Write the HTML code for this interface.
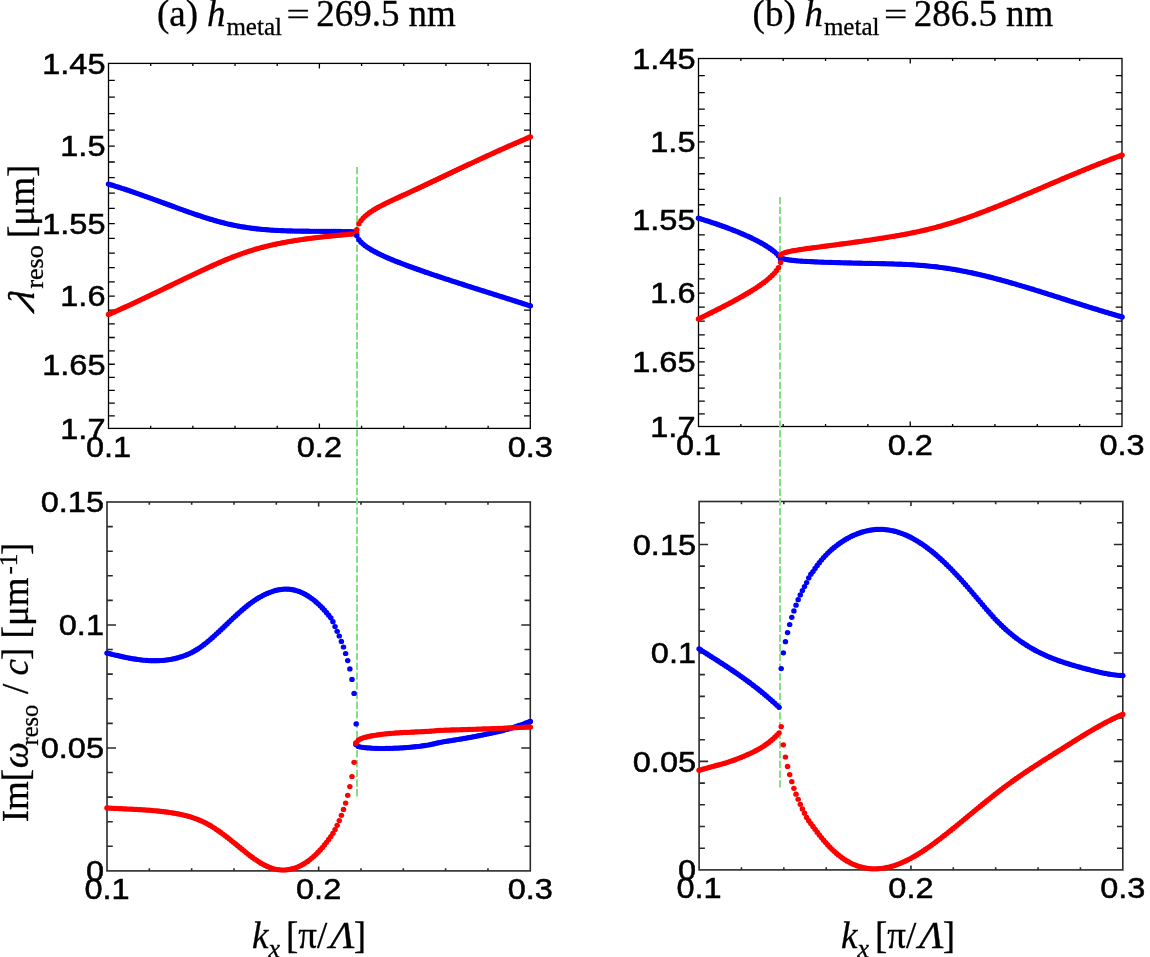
<!DOCTYPE html>
<html><head><meta charset="utf-8"><title>Figure</title>
<style>html,body{margin:0;padding:0;background:#fff;}svg{display:block;}</style>
</head><body>
<svg width="1150" height="957" viewBox="0 0 1150 957">
<rect width="1150" height="957" fill="#fff"/>
<g stroke="#000" stroke-width="1.30" fill="none">
<rect x="108.50" y="63.40" width="421.80" height="365.00"/>
<path d="M150.68 428.40v-2.60M150.68 63.40v2.60M192.86 428.40v-2.60M192.86 63.40v2.60M235.04 428.40v-2.60M235.04 63.40v2.60M277.22 428.40v-2.60M277.22 63.40v2.60M319.40 428.40v-5.00M319.40 63.40v5.00M361.58 428.40v-2.60M361.58 63.40v2.60M403.76 428.40v-2.60M403.76 63.40v2.60M445.94 428.40v-2.60M445.94 63.40v2.60M488.12 428.40v-2.60M488.12 63.40v2.60M108.50 80.40h6.30M530.30 80.40h-6.30M108.50 97.17h6.30M530.30 97.17h-6.30M108.50 113.71h6.30M530.30 113.71h-6.30M108.50 130.03h6.30M530.30 130.03h-6.30M108.50 146.13h6.30M530.30 146.13h-6.30M108.50 162.02h6.30M530.30 162.02h-6.30M108.50 177.70h6.30M530.30 177.70h-6.30M108.50 193.18h6.30M530.30 193.18h-6.30M108.50 208.45h6.30M530.30 208.45h-6.30M108.50 223.53h6.30M530.30 223.53h-6.30M108.50 238.41h6.30M530.30 238.41h-6.30M108.50 253.11h6.30M530.30 253.11h-6.30M108.50 267.62h6.30M530.30 267.62h-6.30M108.50 281.94h6.30M530.30 281.94h-6.30M108.50 296.09h6.30M530.30 296.09h-6.30M108.50 310.06h6.30M530.30 310.06h-6.30M108.50 323.86h6.30M530.30 323.86h-6.30M108.50 337.49h6.30M530.30 337.49h-6.30M108.50 350.95h6.30M530.30 350.95h-6.30M108.50 364.25h6.30M530.30 364.25h-6.30M108.50 377.39h6.30M530.30 377.39h-6.30M108.50 390.37h6.30M530.30 390.37h-6.30M108.50 403.20h6.30M530.30 403.20h-6.30M108.50 415.87h6.30M530.30 415.87h-6.30"/>
</g>
<g stroke="#000" stroke-width="1.30" fill="none">
<rect x="698.50" y="58.50" width="423.50" height="368.00"/>
<path d="M740.85 426.50v-2.60M740.85 58.50v2.60M783.20 426.50v-2.60M783.20 58.50v2.60M825.55 426.50v-2.60M825.55 58.50v2.60M867.90 426.50v-2.60M867.90 58.50v2.60M910.25 426.50v-5.00M910.25 58.50v5.00M952.60 426.50v-2.60M952.60 58.50v2.60M994.95 426.50v-2.60M994.95 58.50v2.60M1037.30 426.50v-2.60M1037.30 58.50v2.60M1079.65 426.50v-2.60M1079.65 58.50v2.60M698.50 75.64h6.30M1122.00 75.64h-6.30M698.50 92.55h6.30M1122.00 92.55h-6.30M698.50 109.22h6.30M1122.00 109.22h-6.30M698.50 125.68h6.30M1122.00 125.68h-6.30M698.50 141.91h6.30M1122.00 141.91h-6.30M698.50 157.93h6.30M1122.00 157.93h-6.30M698.50 173.74h6.30M1122.00 173.74h-6.30M698.50 189.34h6.30M1122.00 189.34h-6.30M698.50 204.74h6.30M1122.00 204.74h-6.30M698.50 219.95h6.30M1122.00 219.95h-6.30M698.50 234.95h6.30M1122.00 234.95h-6.30M698.50 249.77h6.30M1122.00 249.77h-6.30M698.50 264.39h6.30M1122.00 264.39h-6.30M698.50 278.84h6.30M1122.00 278.84h-6.30M698.50 293.10h6.30M1122.00 293.10h-6.30M698.50 307.19h6.30M1122.00 307.19h-6.30M698.50 321.10h6.30M1122.00 321.10h-6.30M698.50 334.84h6.30M1122.00 334.84h-6.30M698.50 348.41h6.30M1122.00 348.41h-6.30M698.50 361.82h6.30M1122.00 361.82h-6.30M698.50 375.07h6.30M1122.00 375.07h-6.30M698.50 388.16h6.30M1122.00 388.16h-6.30M698.50 401.09h6.30M1122.00 401.09h-6.30M698.50 413.87h6.30M1122.00 413.87h-6.30"/>
</g>
<g stroke="#2a2a2a" stroke-width="1.60" fill="none">
<rect x="107.00" y="502.00" width="423.30" height="368.90"/>
<path d="M149.33 870.90v-2.70M149.33 502.00v2.70M191.66 870.90v-2.70M191.66 502.00v2.70M233.99 870.90v-2.70M233.99 502.00v2.70M276.32 870.90v-2.70M276.32 502.00v2.70M318.65 870.90v-4.50M318.65 502.00v4.50M360.98 870.90v-2.70M360.98 502.00v2.70M403.31 870.90v-2.70M403.31 502.00v2.70M445.64 870.90v-2.70M445.64 502.00v2.70M487.97 870.90v-2.70M487.97 502.00v2.70M107.00 846.31h5.80M530.30 846.31h-5.80M107.00 821.71h5.80M530.30 821.71h-5.80M107.00 797.12h5.80M530.30 797.12h-5.80M107.00 772.53h5.80M530.30 772.53h-5.80M107.00 747.93h9.00M530.30 747.93h-9.00M107.00 723.34h5.80M530.30 723.34h-5.80M107.00 698.75h5.80M530.30 698.75h-5.80M107.00 674.15h5.80M530.30 674.15h-5.80M107.00 649.56h5.80M530.30 649.56h-5.80M107.00 624.97h9.00M530.30 624.97h-9.00M107.00 600.37h5.80M530.30 600.37h-5.80M107.00 575.78h5.80M530.30 575.78h-5.80M107.00 551.19h5.80M530.30 551.19h-5.80M107.00 526.59h5.80M530.30 526.59h-5.80"/>
</g>
<g stroke="#2a2a2a" stroke-width="1.60" fill="none">
<rect x="699.10" y="501.50" width="423.70" height="368.40"/>
<path d="M741.47 869.90v-2.70M741.47 501.50v2.70M783.84 869.90v-2.70M783.84 501.50v2.70M826.21 869.90v-2.70M826.21 501.50v2.70M868.58 869.90v-2.70M868.58 501.50v2.70M910.95 869.90v-4.50M910.95 501.50v4.50M953.32 869.90v-2.70M953.32 501.50v2.70M995.69 869.90v-2.70M995.69 501.50v2.70M1038.06 869.90v-2.70M1038.06 501.50v2.70M1080.43 869.90v-2.70M1080.43 501.50v2.70M699.10 848.20h5.80M1122.80 848.20h-5.80M699.10 826.51h5.80M1122.80 826.51h-5.80M699.10 804.81h5.80M1122.80 804.81h-5.80M699.10 783.12h5.80M1122.80 783.12h-5.80M699.10 761.42h9.00M1122.80 761.42h-9.00M699.10 739.72h5.80M1122.80 739.72h-5.80M699.10 718.03h5.80M1122.80 718.03h-5.80M699.10 696.33h5.80M1122.80 696.33h-5.80M699.10 674.63h5.80M1122.80 674.63h-5.80M699.10 652.94h9.00M1122.80 652.94h-9.00M699.10 631.24h5.80M1122.80 631.24h-5.80M699.10 609.55h5.80M1122.80 609.55h-5.80M699.10 587.85h5.80M1122.80 587.85h-5.80M699.10 566.15h5.80M1122.80 566.15h-5.80M699.10 544.46h9.00M1122.80 544.46h-9.00M699.10 522.76h5.80M1122.80 522.76h-5.80"/>
</g>
<line x1="357.00" y1="167.00" x2="357.00" y2="799.00" stroke="#86de86" stroke-width="2" stroke-dasharray="7.3 2.42"/>
<line x1="780.00" y1="197.00" x2="780.00" y2="790.00" stroke="#86de86" stroke-width="2" stroke-dasharray="7.3 2.42"/>
<ellipse cx="110.05" cy="184.55" rx="2.75" ry="2.60" fill="#0000ff"/>
<ellipse cx="112.16" cy="185.19" rx="2.75" ry="2.60" fill="#0000ff"/>
<ellipse cx="114.27" cy="185.83" rx="2.75" ry="2.60" fill="#0000ff"/>
<ellipse cx="116.37" cy="186.48" rx="2.75" ry="2.60" fill="#0000ff"/>
<ellipse cx="118.48" cy="187.15" rx="2.75" ry="2.60" fill="#0000ff"/>
<ellipse cx="120.59" cy="187.82" rx="2.75" ry="2.60" fill="#0000ff"/>
<ellipse cx="122.70" cy="188.50" rx="2.75" ry="2.60" fill="#0000ff"/>
<ellipse cx="124.81" cy="189.19" rx="2.75" ry="2.60" fill="#0000ff"/>
<ellipse cx="126.92" cy="189.89" rx="2.75" ry="2.60" fill="#0000ff"/>
<ellipse cx="129.03" cy="190.60" rx="2.75" ry="2.60" fill="#0000ff"/>
<ellipse cx="131.14" cy="191.31" rx="2.75" ry="2.60" fill="#0000ff"/>
<ellipse cx="133.25" cy="192.03" rx="2.75" ry="2.60" fill="#0000ff"/>
<ellipse cx="135.36" cy="192.76" rx="2.75" ry="2.60" fill="#0000ff"/>
<ellipse cx="137.46" cy="193.49" rx="2.75" ry="2.60" fill="#0000ff"/>
<ellipse cx="139.57" cy="194.23" rx="2.75" ry="2.60" fill="#0000ff"/>
<ellipse cx="141.68" cy="194.98" rx="2.75" ry="2.60" fill="#0000ff"/>
<ellipse cx="143.79" cy="195.73" rx="2.75" ry="2.60" fill="#0000ff"/>
<ellipse cx="145.90" cy="196.48" rx="2.75" ry="2.60" fill="#0000ff"/>
<ellipse cx="148.01" cy="197.24" rx="2.75" ry="2.60" fill="#0000ff"/>
<ellipse cx="150.12" cy="198.00" rx="2.75" ry="2.60" fill="#0000ff"/>
<ellipse cx="152.23" cy="198.76" rx="2.75" ry="2.60" fill="#0000ff"/>
<ellipse cx="154.34" cy="199.53" rx="2.75" ry="2.60" fill="#0000ff"/>
<ellipse cx="156.45" cy="200.29" rx="2.75" ry="2.60" fill="#0000ff"/>
<ellipse cx="158.55" cy="201.06" rx="2.75" ry="2.60" fill="#0000ff"/>
<ellipse cx="160.66" cy="201.84" rx="2.75" ry="2.60" fill="#0000ff"/>
<ellipse cx="162.77" cy="202.61" rx="2.75" ry="2.60" fill="#0000ff"/>
<ellipse cx="164.88" cy="203.38" rx="2.75" ry="2.60" fill="#0000ff"/>
<ellipse cx="166.99" cy="204.15" rx="2.75" ry="2.60" fill="#0000ff"/>
<ellipse cx="169.10" cy="204.92" rx="2.75" ry="2.60" fill="#0000ff"/>
<ellipse cx="171.21" cy="205.70" rx="2.75" ry="2.60" fill="#0000ff"/>
<ellipse cx="173.32" cy="206.46" rx="2.75" ry="2.60" fill="#0000ff"/>
<ellipse cx="175.43" cy="207.23" rx="2.75" ry="2.60" fill="#0000ff"/>
<ellipse cx="177.54" cy="208.00" rx="2.75" ry="2.60" fill="#0000ff"/>
<ellipse cx="179.64" cy="208.76" rx="2.75" ry="2.60" fill="#0000ff"/>
<ellipse cx="181.75" cy="209.52" rx="2.75" ry="2.60" fill="#0000ff"/>
<ellipse cx="183.86" cy="210.28" rx="2.75" ry="2.60" fill="#0000ff"/>
<ellipse cx="185.97" cy="211.03" rx="2.75" ry="2.60" fill="#0000ff"/>
<ellipse cx="188.08" cy="211.78" rx="2.75" ry="2.60" fill="#0000ff"/>
<ellipse cx="190.19" cy="212.52" rx="2.75" ry="2.60" fill="#0000ff"/>
<ellipse cx="192.30" cy="213.25" rx="2.75" ry="2.60" fill="#0000ff"/>
<ellipse cx="194.41" cy="213.98" rx="2.75" ry="2.60" fill="#0000ff"/>
<ellipse cx="196.52" cy="214.70" rx="2.75" ry="2.60" fill="#0000ff"/>
<ellipse cx="198.62" cy="215.42" rx="2.75" ry="2.60" fill="#0000ff"/>
<ellipse cx="200.73" cy="216.12" rx="2.75" ry="2.60" fill="#0000ff"/>
<ellipse cx="202.84" cy="216.81" rx="2.75" ry="2.60" fill="#0000ff"/>
<ellipse cx="204.95" cy="217.49" rx="2.75" ry="2.60" fill="#0000ff"/>
<ellipse cx="207.06" cy="218.16" rx="2.75" ry="2.60" fill="#0000ff"/>
<ellipse cx="209.17" cy="218.81" rx="2.75" ry="2.60" fill="#0000ff"/>
<ellipse cx="211.28" cy="219.45" rx="2.75" ry="2.60" fill="#0000ff"/>
<ellipse cx="213.39" cy="220.08" rx="2.75" ry="2.60" fill="#0000ff"/>
<ellipse cx="215.50" cy="220.69" rx="2.75" ry="2.60" fill="#0000ff"/>
<ellipse cx="217.61" cy="221.29" rx="2.75" ry="2.60" fill="#0000ff"/>
<ellipse cx="219.72" cy="221.86" rx="2.75" ry="2.60" fill="#0000ff"/>
<ellipse cx="221.82" cy="222.42" rx="2.75" ry="2.60" fill="#0000ff"/>
<ellipse cx="223.93" cy="222.96" rx="2.75" ry="2.60" fill="#0000ff"/>
<ellipse cx="226.04" cy="223.48" rx="2.75" ry="2.60" fill="#0000ff"/>
<ellipse cx="228.15" cy="223.98" rx="2.75" ry="2.60" fill="#0000ff"/>
<ellipse cx="230.26" cy="224.46" rx="2.75" ry="2.60" fill="#0000ff"/>
<ellipse cx="232.37" cy="224.92" rx="2.75" ry="2.60" fill="#0000ff"/>
<ellipse cx="234.48" cy="225.35" rx="2.75" ry="2.60" fill="#0000ff"/>
<ellipse cx="236.59" cy="225.76" rx="2.75" ry="2.60" fill="#0000ff"/>
<ellipse cx="238.70" cy="226.16" rx="2.75" ry="2.60" fill="#0000ff"/>
<ellipse cx="240.81" cy="226.53" rx="2.75" ry="2.60" fill="#0000ff"/>
<ellipse cx="242.91" cy="226.89" rx="2.75" ry="2.60" fill="#0000ff"/>
<ellipse cx="245.02" cy="227.22" rx="2.75" ry="2.60" fill="#0000ff"/>
<ellipse cx="247.13" cy="227.54" rx="2.75" ry="2.60" fill="#0000ff"/>
<ellipse cx="249.24" cy="227.84" rx="2.75" ry="2.60" fill="#0000ff"/>
<ellipse cx="251.35" cy="228.13" rx="2.75" ry="2.60" fill="#0000ff"/>
<ellipse cx="253.46" cy="228.39" rx="2.75" ry="2.60" fill="#0000ff"/>
<ellipse cx="255.57" cy="228.64" rx="2.75" ry="2.60" fill="#0000ff"/>
<ellipse cx="257.68" cy="228.88" rx="2.75" ry="2.60" fill="#0000ff"/>
<ellipse cx="259.79" cy="229.10" rx="2.75" ry="2.60" fill="#0000ff"/>
<ellipse cx="261.89" cy="229.31" rx="2.75" ry="2.60" fill="#0000ff"/>
<ellipse cx="264.00" cy="229.50" rx="2.75" ry="2.60" fill="#0000ff"/>
<ellipse cx="266.11" cy="229.68" rx="2.75" ry="2.60" fill="#0000ff"/>
<ellipse cx="268.22" cy="229.84" rx="2.75" ry="2.60" fill="#0000ff"/>
<ellipse cx="270.33" cy="229.99" rx="2.75" ry="2.60" fill="#0000ff"/>
<ellipse cx="272.44" cy="230.14" rx="2.75" ry="2.60" fill="#0000ff"/>
<ellipse cx="274.55" cy="230.27" rx="2.75" ry="2.60" fill="#0000ff"/>
<ellipse cx="276.66" cy="230.38" rx="2.75" ry="2.60" fill="#0000ff"/>
<ellipse cx="278.77" cy="230.49" rx="2.75" ry="2.60" fill="#0000ff"/>
<ellipse cx="280.88" cy="230.59" rx="2.75" ry="2.60" fill="#0000ff"/>
<ellipse cx="282.99" cy="230.68" rx="2.75" ry="2.60" fill="#0000ff"/>
<ellipse cx="285.09" cy="230.76" rx="2.75" ry="2.60" fill="#0000ff"/>
<ellipse cx="287.20" cy="230.83" rx="2.75" ry="2.60" fill="#0000ff"/>
<ellipse cx="289.31" cy="230.90" rx="2.75" ry="2.60" fill="#0000ff"/>
<ellipse cx="291.42" cy="230.95" rx="2.75" ry="2.60" fill="#0000ff"/>
<ellipse cx="293.53" cy="231.00" rx="2.75" ry="2.60" fill="#0000ff"/>
<ellipse cx="295.64" cy="231.05" rx="2.75" ry="2.60" fill="#0000ff"/>
<ellipse cx="297.75" cy="231.09" rx="2.75" ry="2.60" fill="#0000ff"/>
<ellipse cx="299.86" cy="231.12" rx="2.75" ry="2.60" fill="#0000ff"/>
<ellipse cx="301.97" cy="231.15" rx="2.75" ry="2.60" fill="#0000ff"/>
<ellipse cx="304.07" cy="231.17" rx="2.75" ry="2.60" fill="#0000ff"/>
<ellipse cx="306.18" cy="231.19" rx="2.75" ry="2.60" fill="#0000ff"/>
<ellipse cx="308.29" cy="231.21" rx="2.75" ry="2.60" fill="#0000ff"/>
<ellipse cx="310.40" cy="231.23" rx="2.75" ry="2.60" fill="#0000ff"/>
<ellipse cx="312.51" cy="231.24" rx="2.75" ry="2.60" fill="#0000ff"/>
<ellipse cx="314.62" cy="231.25" rx="2.75" ry="2.60" fill="#0000ff"/>
<ellipse cx="316.73" cy="231.26" rx="2.75" ry="2.60" fill="#0000ff"/>
<ellipse cx="318.84" cy="231.27" rx="2.75" ry="2.60" fill="#0000ff"/>
<ellipse cx="320.95" cy="231.28" rx="2.75" ry="2.60" fill="#0000ff"/>
<ellipse cx="323.06" cy="231.29" rx="2.75" ry="2.60" fill="#0000ff"/>
<ellipse cx="325.17" cy="231.30" rx="2.75" ry="2.60" fill="#0000ff"/>
<ellipse cx="327.27" cy="231.32" rx="2.75" ry="2.60" fill="#0000ff"/>
<ellipse cx="329.38" cy="231.33" rx="2.75" ry="2.60" fill="#0000ff"/>
<ellipse cx="331.49" cy="231.35" rx="2.75" ry="2.60" fill="#0000ff"/>
<ellipse cx="333.60" cy="231.37" rx="2.75" ry="2.60" fill="#0000ff"/>
<ellipse cx="335.71" cy="231.39" rx="2.75" ry="2.60" fill="#0000ff"/>
<ellipse cx="337.82" cy="231.42" rx="2.75" ry="2.60" fill="#0000ff"/>
<ellipse cx="339.93" cy="231.46" rx="2.75" ry="2.60" fill="#0000ff"/>
<ellipse cx="342.04" cy="231.49" rx="2.75" ry="2.60" fill="#0000ff"/>
<ellipse cx="344.15" cy="231.54" rx="2.75" ry="2.60" fill="#0000ff"/>
<ellipse cx="346.25" cy="231.59" rx="2.75" ry="2.60" fill="#0000ff"/>
<ellipse cx="348.36" cy="231.65" rx="2.75" ry="2.60" fill="#0000ff"/>
<ellipse cx="350.47" cy="231.71" rx="2.75" ry="2.60" fill="#0000ff"/>
<ellipse cx="352.58" cy="231.78" rx="2.75" ry="2.60" fill="#0000ff"/>
<ellipse cx="354.69" cy="231.86" rx="2.75" ry="2.60" fill="#0000ff"/>
<ellipse cx="108.50" cy="184.10" rx="2.75" ry="2.60" fill="#0000ff"/>
<ellipse cx="110.05" cy="313.74" rx="2.75" ry="2.60" fill="#ff0000"/>
<ellipse cx="112.16" cy="312.83" rx="2.75" ry="2.60" fill="#ff0000"/>
<ellipse cx="114.27" cy="311.91" rx="2.75" ry="2.60" fill="#ff0000"/>
<ellipse cx="116.37" cy="310.98" rx="2.75" ry="2.60" fill="#ff0000"/>
<ellipse cx="118.48" cy="310.05" rx="2.75" ry="2.60" fill="#ff0000"/>
<ellipse cx="120.59" cy="309.11" rx="2.75" ry="2.60" fill="#ff0000"/>
<ellipse cx="122.70" cy="308.16" rx="2.75" ry="2.60" fill="#ff0000"/>
<ellipse cx="124.81" cy="307.21" rx="2.75" ry="2.60" fill="#ff0000"/>
<ellipse cx="126.92" cy="306.25" rx="2.75" ry="2.60" fill="#ff0000"/>
<ellipse cx="129.03" cy="305.28" rx="2.75" ry="2.60" fill="#ff0000"/>
<ellipse cx="131.14" cy="304.31" rx="2.75" ry="2.60" fill="#ff0000"/>
<ellipse cx="133.25" cy="303.33" rx="2.75" ry="2.60" fill="#ff0000"/>
<ellipse cx="135.36" cy="302.35" rx="2.75" ry="2.60" fill="#ff0000"/>
<ellipse cx="137.46" cy="301.36" rx="2.75" ry="2.60" fill="#ff0000"/>
<ellipse cx="139.57" cy="300.37" rx="2.75" ry="2.60" fill="#ff0000"/>
<ellipse cx="141.68" cy="299.37" rx="2.75" ry="2.60" fill="#ff0000"/>
<ellipse cx="143.79" cy="298.37" rx="2.75" ry="2.60" fill="#ff0000"/>
<ellipse cx="145.90" cy="297.37" rx="2.75" ry="2.60" fill="#ff0000"/>
<ellipse cx="148.01" cy="296.36" rx="2.75" ry="2.60" fill="#ff0000"/>
<ellipse cx="150.12" cy="295.35" rx="2.75" ry="2.60" fill="#ff0000"/>
<ellipse cx="152.23" cy="294.34" rx="2.75" ry="2.60" fill="#ff0000"/>
<ellipse cx="154.34" cy="293.32" rx="2.75" ry="2.60" fill="#ff0000"/>
<ellipse cx="156.45" cy="292.30" rx="2.75" ry="2.60" fill="#ff0000"/>
<ellipse cx="158.55" cy="291.28" rx="2.75" ry="2.60" fill="#ff0000"/>
<ellipse cx="160.66" cy="290.26" rx="2.75" ry="2.60" fill="#ff0000"/>
<ellipse cx="162.77" cy="289.24" rx="2.75" ry="2.60" fill="#ff0000"/>
<ellipse cx="164.88" cy="288.22" rx="2.75" ry="2.60" fill="#ff0000"/>
<ellipse cx="166.99" cy="287.19" rx="2.75" ry="2.60" fill="#ff0000"/>
<ellipse cx="169.10" cy="286.17" rx="2.75" ry="2.60" fill="#ff0000"/>
<ellipse cx="171.21" cy="285.15" rx="2.75" ry="2.60" fill="#ff0000"/>
<ellipse cx="173.32" cy="284.12" rx="2.75" ry="2.60" fill="#ff0000"/>
<ellipse cx="175.43" cy="283.10" rx="2.75" ry="2.60" fill="#ff0000"/>
<ellipse cx="177.54" cy="282.08" rx="2.75" ry="2.60" fill="#ff0000"/>
<ellipse cx="179.64" cy="281.06" rx="2.75" ry="2.60" fill="#ff0000"/>
<ellipse cx="181.75" cy="280.04" rx="2.75" ry="2.60" fill="#ff0000"/>
<ellipse cx="183.86" cy="279.02" rx="2.75" ry="2.60" fill="#ff0000"/>
<ellipse cx="185.97" cy="278.01" rx="2.75" ry="2.60" fill="#ff0000"/>
<ellipse cx="188.08" cy="277.00" rx="2.75" ry="2.60" fill="#ff0000"/>
<ellipse cx="190.19" cy="275.99" rx="2.75" ry="2.60" fill="#ff0000"/>
<ellipse cx="192.30" cy="274.98" rx="2.75" ry="2.60" fill="#ff0000"/>
<ellipse cx="194.41" cy="273.98" rx="2.75" ry="2.60" fill="#ff0000"/>
<ellipse cx="196.52" cy="272.98" rx="2.75" ry="2.60" fill="#ff0000"/>
<ellipse cx="198.62" cy="271.98" rx="2.75" ry="2.60" fill="#ff0000"/>
<ellipse cx="200.73" cy="270.99" rx="2.75" ry="2.60" fill="#ff0000"/>
<ellipse cx="202.84" cy="270.01" rx="2.75" ry="2.60" fill="#ff0000"/>
<ellipse cx="204.95" cy="269.03" rx="2.75" ry="2.60" fill="#ff0000"/>
<ellipse cx="207.06" cy="268.05" rx="2.75" ry="2.60" fill="#ff0000"/>
<ellipse cx="209.17" cy="267.09" rx="2.75" ry="2.60" fill="#ff0000"/>
<ellipse cx="211.28" cy="266.13" rx="2.75" ry="2.60" fill="#ff0000"/>
<ellipse cx="213.39" cy="265.18" rx="2.75" ry="2.60" fill="#ff0000"/>
<ellipse cx="215.50" cy="264.24" rx="2.75" ry="2.60" fill="#ff0000"/>
<ellipse cx="217.61" cy="263.31" rx="2.75" ry="2.60" fill="#ff0000"/>
<ellipse cx="219.72" cy="262.39" rx="2.75" ry="2.60" fill="#ff0000"/>
<ellipse cx="221.82" cy="261.48" rx="2.75" ry="2.60" fill="#ff0000"/>
<ellipse cx="223.93" cy="260.59" rx="2.75" ry="2.60" fill="#ff0000"/>
<ellipse cx="226.04" cy="259.71" rx="2.75" ry="2.60" fill="#ff0000"/>
<ellipse cx="228.15" cy="258.84" rx="2.75" ry="2.60" fill="#ff0000"/>
<ellipse cx="230.26" cy="257.99" rx="2.75" ry="2.60" fill="#ff0000"/>
<ellipse cx="232.37" cy="257.16" rx="2.75" ry="2.60" fill="#ff0000"/>
<ellipse cx="234.48" cy="256.34" rx="2.75" ry="2.60" fill="#ff0000"/>
<ellipse cx="236.59" cy="255.54" rx="2.75" ry="2.60" fill="#ff0000"/>
<ellipse cx="238.70" cy="254.76" rx="2.75" ry="2.60" fill="#ff0000"/>
<ellipse cx="240.81" cy="253.99" rx="2.75" ry="2.60" fill="#ff0000"/>
<ellipse cx="242.91" cy="253.25" rx="2.75" ry="2.60" fill="#ff0000"/>
<ellipse cx="245.02" cy="252.52" rx="2.75" ry="2.60" fill="#ff0000"/>
<ellipse cx="247.13" cy="251.82" rx="2.75" ry="2.60" fill="#ff0000"/>
<ellipse cx="249.24" cy="251.14" rx="2.75" ry="2.60" fill="#ff0000"/>
<ellipse cx="251.35" cy="250.48" rx="2.75" ry="2.60" fill="#ff0000"/>
<ellipse cx="253.46" cy="249.83" rx="2.75" ry="2.60" fill="#ff0000"/>
<ellipse cx="255.57" cy="249.21" rx="2.75" ry="2.60" fill="#ff0000"/>
<ellipse cx="257.68" cy="248.61" rx="2.75" ry="2.60" fill="#ff0000"/>
<ellipse cx="259.79" cy="248.02" rx="2.75" ry="2.60" fill="#ff0000"/>
<ellipse cx="261.89" cy="247.45" rx="2.75" ry="2.60" fill="#ff0000"/>
<ellipse cx="264.00" cy="246.90" rx="2.75" ry="2.60" fill="#ff0000"/>
<ellipse cx="266.11" cy="246.36" rx="2.75" ry="2.60" fill="#ff0000"/>
<ellipse cx="268.22" cy="245.85" rx="2.75" ry="2.60" fill="#ff0000"/>
<ellipse cx="270.33" cy="245.35" rx="2.75" ry="2.60" fill="#ff0000"/>
<ellipse cx="272.44" cy="244.86" rx="2.75" ry="2.60" fill="#ff0000"/>
<ellipse cx="274.55" cy="244.39" rx="2.75" ry="2.60" fill="#ff0000"/>
<ellipse cx="276.66" cy="243.93" rx="2.75" ry="2.60" fill="#ff0000"/>
<ellipse cx="278.77" cy="243.49" rx="2.75" ry="2.60" fill="#ff0000"/>
<ellipse cx="280.88" cy="243.07" rx="2.75" ry="2.60" fill="#ff0000"/>
<ellipse cx="282.99" cy="242.65" rx="2.75" ry="2.60" fill="#ff0000"/>
<ellipse cx="285.09" cy="242.25" rx="2.75" ry="2.60" fill="#ff0000"/>
<ellipse cx="287.20" cy="241.87" rx="2.75" ry="2.60" fill="#ff0000"/>
<ellipse cx="289.31" cy="241.49" rx="2.75" ry="2.60" fill="#ff0000"/>
<ellipse cx="291.42" cy="241.13" rx="2.75" ry="2.60" fill="#ff0000"/>
<ellipse cx="293.53" cy="240.78" rx="2.75" ry="2.60" fill="#ff0000"/>
<ellipse cx="295.64" cy="240.44" rx="2.75" ry="2.60" fill="#ff0000"/>
<ellipse cx="297.75" cy="240.11" rx="2.75" ry="2.60" fill="#ff0000"/>
<ellipse cx="299.86" cy="239.79" rx="2.75" ry="2.60" fill="#ff0000"/>
<ellipse cx="301.97" cy="239.48" rx="2.75" ry="2.60" fill="#ff0000"/>
<ellipse cx="304.07" cy="239.19" rx="2.75" ry="2.60" fill="#ff0000"/>
<ellipse cx="306.18" cy="238.89" rx="2.75" ry="2.60" fill="#ff0000"/>
<ellipse cx="308.29" cy="238.61" rx="2.75" ry="2.60" fill="#ff0000"/>
<ellipse cx="310.40" cy="238.34" rx="2.75" ry="2.60" fill="#ff0000"/>
<ellipse cx="312.51" cy="238.07" rx="2.75" ry="2.60" fill="#ff0000"/>
<ellipse cx="314.62" cy="237.82" rx="2.75" ry="2.60" fill="#ff0000"/>
<ellipse cx="316.73" cy="237.57" rx="2.75" ry="2.60" fill="#ff0000"/>
<ellipse cx="318.84" cy="237.32" rx="2.75" ry="2.60" fill="#ff0000"/>
<ellipse cx="320.95" cy="237.08" rx="2.75" ry="2.60" fill="#ff0000"/>
<ellipse cx="323.06" cy="236.85" rx="2.75" ry="2.60" fill="#ff0000"/>
<ellipse cx="325.17" cy="236.62" rx="2.75" ry="2.60" fill="#ff0000"/>
<ellipse cx="327.27" cy="236.40" rx="2.75" ry="2.60" fill="#ff0000"/>
<ellipse cx="329.38" cy="236.18" rx="2.75" ry="2.60" fill="#ff0000"/>
<ellipse cx="331.49" cy="235.97" rx="2.75" ry="2.60" fill="#ff0000"/>
<ellipse cx="333.60" cy="235.76" rx="2.75" ry="2.60" fill="#ff0000"/>
<ellipse cx="335.71" cy="235.55" rx="2.75" ry="2.60" fill="#ff0000"/>
<ellipse cx="337.82" cy="235.34" rx="2.75" ry="2.60" fill="#ff0000"/>
<ellipse cx="339.93" cy="235.14" rx="2.75" ry="2.60" fill="#ff0000"/>
<ellipse cx="342.04" cy="234.94" rx="2.75" ry="2.60" fill="#ff0000"/>
<ellipse cx="344.15" cy="234.74" rx="2.75" ry="2.60" fill="#ff0000"/>
<ellipse cx="346.25" cy="234.55" rx="2.75" ry="2.60" fill="#ff0000"/>
<ellipse cx="348.36" cy="234.35" rx="2.75" ry="2.60" fill="#ff0000"/>
<ellipse cx="350.47" cy="234.15" rx="2.75" ry="2.60" fill="#ff0000"/>
<ellipse cx="352.58" cy="233.95" rx="2.75" ry="2.60" fill="#ff0000"/>
<ellipse cx="354.69" cy="233.76" rx="2.75" ry="2.60" fill="#ff0000"/>
<ellipse cx="356.80" cy="233.56" rx="2.75" ry="2.60" fill="#ff0000"/>
<ellipse cx="108.50" cy="314.40" rx="2.75" ry="2.60" fill="#ff0000"/>
<ellipse cx="356.80" cy="235.83" rx="2.75" ry="2.60" fill="#0000ff"/>
<ellipse cx="358.91" cy="239.71" rx="2.75" ry="2.60" fill="#0000ff"/>
<ellipse cx="361.02" cy="242.15" rx="2.75" ry="2.60" fill="#0000ff"/>
<ellipse cx="363.13" cy="244.09" rx="2.75" ry="2.60" fill="#0000ff"/>
<ellipse cx="365.24" cy="245.76" rx="2.75" ry="2.60" fill="#0000ff"/>
<ellipse cx="367.35" cy="247.26" rx="2.75" ry="2.60" fill="#0000ff"/>
<ellipse cx="369.45" cy="248.62" rx="2.75" ry="2.60" fill="#0000ff"/>
<ellipse cx="371.56" cy="249.89" rx="2.75" ry="2.60" fill="#0000ff"/>
<ellipse cx="373.67" cy="251.08" rx="2.75" ry="2.60" fill="#0000ff"/>
<ellipse cx="375.78" cy="252.21" rx="2.75" ry="2.60" fill="#0000ff"/>
<ellipse cx="377.89" cy="253.29" rx="2.75" ry="2.60" fill="#0000ff"/>
<ellipse cx="380.00" cy="254.33" rx="2.75" ry="2.60" fill="#0000ff"/>
<ellipse cx="382.11" cy="255.33" rx="2.75" ry="2.60" fill="#0000ff"/>
<ellipse cx="384.22" cy="256.30" rx="2.75" ry="2.60" fill="#0000ff"/>
<ellipse cx="386.33" cy="257.24" rx="2.75" ry="2.60" fill="#0000ff"/>
<ellipse cx="388.44" cy="258.15" rx="2.75" ry="2.60" fill="#0000ff"/>
<ellipse cx="390.54" cy="259.05" rx="2.75" ry="2.60" fill="#0000ff"/>
<ellipse cx="392.65" cy="259.93" rx="2.75" ry="2.60" fill="#0000ff"/>
<ellipse cx="394.76" cy="260.78" rx="2.75" ry="2.60" fill="#0000ff"/>
<ellipse cx="396.87" cy="261.63" rx="2.75" ry="2.60" fill="#0000ff"/>
<ellipse cx="398.98" cy="262.46" rx="2.75" ry="2.60" fill="#0000ff"/>
<ellipse cx="401.09" cy="263.27" rx="2.75" ry="2.60" fill="#0000ff"/>
<ellipse cx="403.20" cy="264.08" rx="2.75" ry="2.60" fill="#0000ff"/>
<ellipse cx="405.31" cy="264.87" rx="2.75" ry="2.60" fill="#0000ff"/>
<ellipse cx="407.42" cy="265.65" rx="2.75" ry="2.60" fill="#0000ff"/>
<ellipse cx="409.53" cy="266.43" rx="2.75" ry="2.60" fill="#0000ff"/>
<ellipse cx="411.63" cy="267.20" rx="2.75" ry="2.60" fill="#0000ff"/>
<ellipse cx="413.74" cy="267.95" rx="2.75" ry="2.60" fill="#0000ff"/>
<ellipse cx="415.85" cy="268.71" rx="2.75" ry="2.60" fill="#0000ff"/>
<ellipse cx="417.96" cy="269.45" rx="2.75" ry="2.60" fill="#0000ff"/>
<ellipse cx="420.07" cy="270.19" rx="2.75" ry="2.60" fill="#0000ff"/>
<ellipse cx="422.18" cy="270.93" rx="2.75" ry="2.60" fill="#0000ff"/>
<ellipse cx="424.29" cy="271.65" rx="2.75" ry="2.60" fill="#0000ff"/>
<ellipse cx="426.40" cy="272.38" rx="2.75" ry="2.60" fill="#0000ff"/>
<ellipse cx="428.51" cy="273.10" rx="2.75" ry="2.60" fill="#0000ff"/>
<ellipse cx="430.62" cy="273.81" rx="2.75" ry="2.60" fill="#0000ff"/>
<ellipse cx="432.72" cy="274.52" rx="2.75" ry="2.60" fill="#0000ff"/>
<ellipse cx="434.83" cy="275.23" rx="2.75" ry="2.60" fill="#0000ff"/>
<ellipse cx="436.94" cy="275.94" rx="2.75" ry="2.60" fill="#0000ff"/>
<ellipse cx="439.05" cy="276.64" rx="2.75" ry="2.60" fill="#0000ff"/>
<ellipse cx="441.16" cy="277.34" rx="2.75" ry="2.60" fill="#0000ff"/>
<ellipse cx="443.27" cy="278.03" rx="2.75" ry="2.60" fill="#0000ff"/>
<ellipse cx="445.38" cy="278.73" rx="2.75" ry="2.60" fill="#0000ff"/>
<ellipse cx="447.49" cy="279.42" rx="2.75" ry="2.60" fill="#0000ff"/>
<ellipse cx="449.60" cy="280.11" rx="2.75" ry="2.60" fill="#0000ff"/>
<ellipse cx="451.71" cy="280.79" rx="2.75" ry="2.60" fill="#0000ff"/>
<ellipse cx="453.81" cy="281.48" rx="2.75" ry="2.60" fill="#0000ff"/>
<ellipse cx="455.92" cy="282.16" rx="2.75" ry="2.60" fill="#0000ff"/>
<ellipse cx="458.03" cy="282.84" rx="2.75" ry="2.60" fill="#0000ff"/>
<ellipse cx="460.14" cy="283.52" rx="2.75" ry="2.60" fill="#0000ff"/>
<ellipse cx="462.25" cy="284.20" rx="2.75" ry="2.60" fill="#0000ff"/>
<ellipse cx="464.36" cy="284.88" rx="2.75" ry="2.60" fill="#0000ff"/>
<ellipse cx="466.47" cy="285.56" rx="2.75" ry="2.60" fill="#0000ff"/>
<ellipse cx="468.58" cy="286.23" rx="2.75" ry="2.60" fill="#0000ff"/>
<ellipse cx="470.69" cy="286.90" rx="2.75" ry="2.60" fill="#0000ff"/>
<ellipse cx="472.80" cy="287.58" rx="2.75" ry="2.60" fill="#0000ff"/>
<ellipse cx="474.90" cy="288.25" rx="2.75" ry="2.60" fill="#0000ff"/>
<ellipse cx="477.01" cy="288.92" rx="2.75" ry="2.60" fill="#0000ff"/>
<ellipse cx="479.12" cy="289.59" rx="2.75" ry="2.60" fill="#0000ff"/>
<ellipse cx="481.23" cy="290.26" rx="2.75" ry="2.60" fill="#0000ff"/>
<ellipse cx="483.34" cy="290.93" rx="2.75" ry="2.60" fill="#0000ff"/>
<ellipse cx="485.45" cy="291.60" rx="2.75" ry="2.60" fill="#0000ff"/>
<ellipse cx="487.56" cy="292.27" rx="2.75" ry="2.60" fill="#0000ff"/>
<ellipse cx="489.67" cy="292.94" rx="2.75" ry="2.60" fill="#0000ff"/>
<ellipse cx="491.78" cy="293.61" rx="2.75" ry="2.60" fill="#0000ff"/>
<ellipse cx="493.88" cy="294.28" rx="2.75" ry="2.60" fill="#0000ff"/>
<ellipse cx="495.99" cy="294.95" rx="2.75" ry="2.60" fill="#0000ff"/>
<ellipse cx="498.10" cy="295.61" rx="2.75" ry="2.60" fill="#0000ff"/>
<ellipse cx="500.21" cy="296.28" rx="2.75" ry="2.60" fill="#0000ff"/>
<ellipse cx="502.32" cy="296.95" rx="2.75" ry="2.60" fill="#0000ff"/>
<ellipse cx="504.43" cy="297.62" rx="2.75" ry="2.60" fill="#0000ff"/>
<ellipse cx="506.54" cy="298.29" rx="2.75" ry="2.60" fill="#0000ff"/>
<ellipse cx="508.65" cy="298.95" rx="2.75" ry="2.60" fill="#0000ff"/>
<ellipse cx="510.76" cy="299.62" rx="2.75" ry="2.60" fill="#0000ff"/>
<ellipse cx="512.87" cy="300.29" rx="2.75" ry="2.60" fill="#0000ff"/>
<ellipse cx="514.98" cy="300.96" rx="2.75" ry="2.60" fill="#0000ff"/>
<ellipse cx="517.08" cy="301.63" rx="2.75" ry="2.60" fill="#0000ff"/>
<ellipse cx="519.19" cy="302.30" rx="2.75" ry="2.60" fill="#0000ff"/>
<ellipse cx="521.30" cy="302.97" rx="2.75" ry="2.60" fill="#0000ff"/>
<ellipse cx="523.41" cy="303.64" rx="2.75" ry="2.60" fill="#0000ff"/>
<ellipse cx="525.52" cy="304.31" rx="2.75" ry="2.60" fill="#0000ff"/>
<ellipse cx="527.63" cy="304.98" rx="2.75" ry="2.60" fill="#0000ff"/>
<ellipse cx="529.74" cy="305.65" rx="2.75" ry="2.60" fill="#0000ff"/>
<ellipse cx="530.30" cy="305.83" rx="2.75" ry="2.60" fill="#0000ff"/>
<ellipse cx="356.80" cy="229.69" rx="2.75" ry="2.60" fill="#ff0000"/>
<ellipse cx="358.91" cy="223.85" rx="2.75" ry="2.60" fill="#ff0000"/>
<ellipse cx="361.02" cy="220.54" rx="2.75" ry="2.60" fill="#ff0000"/>
<ellipse cx="363.13" cy="218.05" rx="2.75" ry="2.60" fill="#ff0000"/>
<ellipse cx="365.24" cy="216.01" rx="2.75" ry="2.60" fill="#ff0000"/>
<ellipse cx="367.35" cy="214.25" rx="2.75" ry="2.60" fill="#ff0000"/>
<ellipse cx="369.45" cy="212.68" rx="2.75" ry="2.60" fill="#ff0000"/>
<ellipse cx="371.56" cy="211.24" rx="2.75" ry="2.60" fill="#ff0000"/>
<ellipse cx="373.67" cy="209.91" rx="2.75" ry="2.60" fill="#ff0000"/>
<ellipse cx="375.78" cy="208.66" rx="2.75" ry="2.60" fill="#ff0000"/>
<ellipse cx="377.89" cy="207.47" rx="2.75" ry="2.60" fill="#ff0000"/>
<ellipse cx="380.00" cy="206.33" rx="2.75" ry="2.60" fill="#ff0000"/>
<ellipse cx="382.11" cy="205.23" rx="2.75" ry="2.60" fill="#ff0000"/>
<ellipse cx="384.22" cy="204.16" rx="2.75" ry="2.60" fill="#ff0000"/>
<ellipse cx="386.33" cy="203.12" rx="2.75" ry="2.60" fill="#ff0000"/>
<ellipse cx="388.44" cy="202.09" rx="2.75" ry="2.60" fill="#ff0000"/>
<ellipse cx="390.54" cy="201.09" rx="2.75" ry="2.60" fill="#ff0000"/>
<ellipse cx="392.65" cy="200.09" rx="2.75" ry="2.60" fill="#ff0000"/>
<ellipse cx="394.76" cy="199.11" rx="2.75" ry="2.60" fill="#ff0000"/>
<ellipse cx="396.87" cy="198.13" rx="2.75" ry="2.60" fill="#ff0000"/>
<ellipse cx="398.98" cy="197.16" rx="2.75" ry="2.60" fill="#ff0000"/>
<ellipse cx="401.09" cy="196.19" rx="2.75" ry="2.60" fill="#ff0000"/>
<ellipse cx="403.20" cy="195.22" rx="2.75" ry="2.60" fill="#ff0000"/>
<ellipse cx="405.31" cy="194.25" rx="2.75" ry="2.60" fill="#ff0000"/>
<ellipse cx="407.42" cy="193.28" rx="2.75" ry="2.60" fill="#ff0000"/>
<ellipse cx="409.53" cy="192.31" rx="2.75" ry="2.60" fill="#ff0000"/>
<ellipse cx="411.63" cy="191.34" rx="2.75" ry="2.60" fill="#ff0000"/>
<ellipse cx="413.74" cy="190.37" rx="2.75" ry="2.60" fill="#ff0000"/>
<ellipse cx="415.85" cy="189.38" rx="2.75" ry="2.60" fill="#ff0000"/>
<ellipse cx="417.96" cy="188.40" rx="2.75" ry="2.60" fill="#ff0000"/>
<ellipse cx="420.07" cy="187.41" rx="2.75" ry="2.60" fill="#ff0000"/>
<ellipse cx="422.18" cy="186.42" rx="2.75" ry="2.60" fill="#ff0000"/>
<ellipse cx="424.29" cy="185.42" rx="2.75" ry="2.60" fill="#ff0000"/>
<ellipse cx="426.40" cy="184.43" rx="2.75" ry="2.60" fill="#ff0000"/>
<ellipse cx="428.51" cy="183.43" rx="2.75" ry="2.60" fill="#ff0000"/>
<ellipse cx="430.62" cy="182.43" rx="2.75" ry="2.60" fill="#ff0000"/>
<ellipse cx="432.72" cy="181.43" rx="2.75" ry="2.60" fill="#ff0000"/>
<ellipse cx="434.83" cy="180.43" rx="2.75" ry="2.60" fill="#ff0000"/>
<ellipse cx="436.94" cy="179.43" rx="2.75" ry="2.60" fill="#ff0000"/>
<ellipse cx="439.05" cy="178.42" rx="2.75" ry="2.60" fill="#ff0000"/>
<ellipse cx="441.16" cy="177.42" rx="2.75" ry="2.60" fill="#ff0000"/>
<ellipse cx="443.27" cy="176.42" rx="2.75" ry="2.60" fill="#ff0000"/>
<ellipse cx="445.38" cy="175.42" rx="2.75" ry="2.60" fill="#ff0000"/>
<ellipse cx="447.49" cy="174.41" rx="2.75" ry="2.60" fill="#ff0000"/>
<ellipse cx="449.60" cy="173.41" rx="2.75" ry="2.60" fill="#ff0000"/>
<ellipse cx="451.71" cy="172.41" rx="2.75" ry="2.60" fill="#ff0000"/>
<ellipse cx="453.81" cy="171.42" rx="2.75" ry="2.60" fill="#ff0000"/>
<ellipse cx="455.92" cy="170.42" rx="2.75" ry="2.60" fill="#ff0000"/>
<ellipse cx="458.03" cy="169.42" rx="2.75" ry="2.60" fill="#ff0000"/>
<ellipse cx="460.14" cy="168.43" rx="2.75" ry="2.60" fill="#ff0000"/>
<ellipse cx="462.25" cy="167.44" rx="2.75" ry="2.60" fill="#ff0000"/>
<ellipse cx="464.36" cy="166.45" rx="2.75" ry="2.60" fill="#ff0000"/>
<ellipse cx="466.47" cy="165.46" rx="2.75" ry="2.60" fill="#ff0000"/>
<ellipse cx="468.58" cy="164.47" rx="2.75" ry="2.60" fill="#ff0000"/>
<ellipse cx="470.69" cy="163.49" rx="2.75" ry="2.60" fill="#ff0000"/>
<ellipse cx="472.80" cy="162.50" rx="2.75" ry="2.60" fill="#ff0000"/>
<ellipse cx="474.90" cy="161.52" rx="2.75" ry="2.60" fill="#ff0000"/>
<ellipse cx="477.01" cy="160.55" rx="2.75" ry="2.60" fill="#ff0000"/>
<ellipse cx="479.12" cy="159.57" rx="2.75" ry="2.60" fill="#ff0000"/>
<ellipse cx="481.23" cy="158.60" rx="2.75" ry="2.60" fill="#ff0000"/>
<ellipse cx="483.34" cy="157.63" rx="2.75" ry="2.60" fill="#ff0000"/>
<ellipse cx="485.45" cy="156.66" rx="2.75" ry="2.60" fill="#ff0000"/>
<ellipse cx="487.56" cy="155.69" rx="2.75" ry="2.60" fill="#ff0000"/>
<ellipse cx="489.67" cy="154.73" rx="2.75" ry="2.60" fill="#ff0000"/>
<ellipse cx="491.78" cy="153.77" rx="2.75" ry="2.60" fill="#ff0000"/>
<ellipse cx="493.88" cy="152.81" rx="2.75" ry="2.60" fill="#ff0000"/>
<ellipse cx="495.99" cy="151.86" rx="2.75" ry="2.60" fill="#ff0000"/>
<ellipse cx="498.10" cy="150.91" rx="2.75" ry="2.60" fill="#ff0000"/>
<ellipse cx="500.21" cy="149.96" rx="2.75" ry="2.60" fill="#ff0000"/>
<ellipse cx="502.32" cy="149.02" rx="2.75" ry="2.60" fill="#ff0000"/>
<ellipse cx="504.43" cy="148.07" rx="2.75" ry="2.60" fill="#ff0000"/>
<ellipse cx="506.54" cy="147.13" rx="2.75" ry="2.60" fill="#ff0000"/>
<ellipse cx="508.65" cy="146.20" rx="2.75" ry="2.60" fill="#ff0000"/>
<ellipse cx="510.76" cy="145.26" rx="2.75" ry="2.60" fill="#ff0000"/>
<ellipse cx="512.87" cy="144.33" rx="2.75" ry="2.60" fill="#ff0000"/>
<ellipse cx="514.98" cy="143.41" rx="2.75" ry="2.60" fill="#ff0000"/>
<ellipse cx="517.08" cy="142.48" rx="2.75" ry="2.60" fill="#ff0000"/>
<ellipse cx="519.19" cy="141.56" rx="2.75" ry="2.60" fill="#ff0000"/>
<ellipse cx="521.30" cy="140.65" rx="2.75" ry="2.60" fill="#ff0000"/>
<ellipse cx="523.41" cy="139.73" rx="2.75" ry="2.60" fill="#ff0000"/>
<ellipse cx="525.52" cy="138.82" rx="2.75" ry="2.60" fill="#ff0000"/>
<ellipse cx="527.63" cy="137.91" rx="2.75" ry="2.60" fill="#ff0000"/>
<ellipse cx="529.74" cy="137.01" rx="2.75" ry="2.60" fill="#ff0000"/>
<ellipse cx="530.30" cy="136.77" rx="2.75" ry="2.60" fill="#ff0000"/>
<ellipse cx="108.57" cy="653.45" rx="2.75" ry="2.60" fill="#0000ff"/>
<ellipse cx="110.69" cy="653.97" rx="2.75" ry="2.60" fill="#0000ff"/>
<ellipse cx="112.80" cy="654.48" rx="2.75" ry="2.60" fill="#0000ff"/>
<ellipse cx="114.92" cy="654.98" rx="2.75" ry="2.60" fill="#0000ff"/>
<ellipse cx="117.04" cy="655.47" rx="2.75" ry="2.60" fill="#0000ff"/>
<ellipse cx="119.15" cy="655.96" rx="2.75" ry="2.60" fill="#0000ff"/>
<ellipse cx="121.27" cy="656.43" rx="2.75" ry="2.60" fill="#0000ff"/>
<ellipse cx="123.39" cy="656.89" rx="2.75" ry="2.60" fill="#0000ff"/>
<ellipse cx="125.50" cy="657.32" rx="2.75" ry="2.60" fill="#0000ff"/>
<ellipse cx="127.62" cy="657.75" rx="2.75" ry="2.60" fill="#0000ff"/>
<ellipse cx="129.73" cy="658.15" rx="2.75" ry="2.60" fill="#0000ff"/>
<ellipse cx="131.85" cy="658.53" rx="2.75" ry="2.60" fill="#0000ff"/>
<ellipse cx="133.97" cy="658.88" rx="2.75" ry="2.60" fill="#0000ff"/>
<ellipse cx="136.08" cy="659.21" rx="2.75" ry="2.60" fill="#0000ff"/>
<ellipse cx="138.20" cy="659.51" rx="2.75" ry="2.60" fill="#0000ff"/>
<ellipse cx="140.32" cy="659.79" rx="2.75" ry="2.60" fill="#0000ff"/>
<ellipse cx="142.43" cy="660.03" rx="2.75" ry="2.60" fill="#0000ff"/>
<ellipse cx="144.55" cy="660.24" rx="2.75" ry="2.60" fill="#0000ff"/>
<ellipse cx="146.67" cy="660.41" rx="2.75" ry="2.60" fill="#0000ff"/>
<ellipse cx="148.78" cy="660.55" rx="2.75" ry="2.60" fill="#0000ff"/>
<ellipse cx="150.90" cy="660.65" rx="2.75" ry="2.60" fill="#0000ff"/>
<ellipse cx="153.02" cy="660.71" rx="2.75" ry="2.60" fill="#0000ff"/>
<ellipse cx="155.13" cy="660.72" rx="2.75" ry="2.60" fill="#0000ff"/>
<ellipse cx="157.25" cy="660.70" rx="2.75" ry="2.60" fill="#0000ff"/>
<ellipse cx="159.37" cy="660.62" rx="2.75" ry="2.60" fill="#0000ff"/>
<ellipse cx="161.48" cy="660.50" rx="2.75" ry="2.60" fill="#0000ff"/>
<ellipse cx="163.60" cy="660.33" rx="2.75" ry="2.60" fill="#0000ff"/>
<ellipse cx="165.72" cy="660.11" rx="2.75" ry="2.60" fill="#0000ff"/>
<ellipse cx="167.83" cy="659.84" rx="2.75" ry="2.60" fill="#0000ff"/>
<ellipse cx="169.95" cy="659.51" rx="2.75" ry="2.60" fill="#0000ff"/>
<ellipse cx="172.06" cy="659.12" rx="2.75" ry="2.60" fill="#0000ff"/>
<ellipse cx="174.18" cy="658.68" rx="2.75" ry="2.60" fill="#0000ff"/>
<ellipse cx="176.30" cy="658.17" rx="2.75" ry="2.60" fill="#0000ff"/>
<ellipse cx="178.41" cy="657.61" rx="2.75" ry="2.60" fill="#0000ff"/>
<ellipse cx="180.53" cy="656.97" rx="2.75" ry="2.60" fill="#0000ff"/>
<ellipse cx="182.65" cy="656.28" rx="2.75" ry="2.60" fill="#0000ff"/>
<ellipse cx="184.76" cy="655.51" rx="2.75" ry="2.60" fill="#0000ff"/>
<ellipse cx="186.88" cy="654.67" rx="2.75" ry="2.60" fill="#0000ff"/>
<ellipse cx="189.00" cy="653.76" rx="2.75" ry="2.60" fill="#0000ff"/>
<ellipse cx="191.11" cy="652.75" rx="2.75" ry="2.60" fill="#0000ff"/>
<ellipse cx="193.23" cy="651.65" rx="2.75" ry="2.60" fill="#0000ff"/>
<ellipse cx="195.35" cy="650.45" rx="2.75" ry="2.60" fill="#0000ff"/>
<ellipse cx="197.46" cy="649.15" rx="2.75" ry="2.60" fill="#0000ff"/>
<ellipse cx="199.58" cy="647.75" rx="2.75" ry="2.60" fill="#0000ff"/>
<ellipse cx="201.70" cy="646.25" rx="2.75" ry="2.60" fill="#0000ff"/>
<ellipse cx="203.81" cy="644.68" rx="2.75" ry="2.60" fill="#0000ff"/>
<ellipse cx="205.93" cy="643.02" rx="2.75" ry="2.60" fill="#0000ff"/>
<ellipse cx="208.04" cy="641.30" rx="2.75" ry="2.60" fill="#0000ff"/>
<ellipse cx="210.16" cy="639.52" rx="2.75" ry="2.60" fill="#0000ff"/>
<ellipse cx="212.28" cy="637.68" rx="2.75" ry="2.60" fill="#0000ff"/>
<ellipse cx="214.39" cy="635.79" rx="2.75" ry="2.60" fill="#0000ff"/>
<ellipse cx="216.51" cy="633.86" rx="2.75" ry="2.60" fill="#0000ff"/>
<ellipse cx="218.63" cy="631.90" rx="2.75" ry="2.60" fill="#0000ff"/>
<ellipse cx="220.74" cy="629.92" rx="2.75" ry="2.60" fill="#0000ff"/>
<ellipse cx="222.86" cy="627.92" rx="2.75" ry="2.60" fill="#0000ff"/>
<ellipse cx="224.98" cy="625.90" rx="2.75" ry="2.60" fill="#0000ff"/>
<ellipse cx="227.09" cy="623.88" rx="2.75" ry="2.60" fill="#0000ff"/>
<ellipse cx="229.21" cy="621.86" rx="2.75" ry="2.60" fill="#0000ff"/>
<ellipse cx="231.33" cy="619.86" rx="2.75" ry="2.60" fill="#0000ff"/>
<ellipse cx="233.44" cy="617.87" rx="2.75" ry="2.60" fill="#0000ff"/>
<ellipse cx="235.56" cy="615.90" rx="2.75" ry="2.60" fill="#0000ff"/>
<ellipse cx="237.68" cy="613.96" rx="2.75" ry="2.60" fill="#0000ff"/>
<ellipse cx="239.79" cy="612.06" rx="2.75" ry="2.60" fill="#0000ff"/>
<ellipse cx="241.91" cy="610.20" rx="2.75" ry="2.60" fill="#0000ff"/>
<ellipse cx="244.03" cy="608.39" rx="2.75" ry="2.60" fill="#0000ff"/>
<ellipse cx="246.14" cy="606.64" rx="2.75" ry="2.60" fill="#0000ff"/>
<ellipse cx="248.26" cy="604.95" rx="2.75" ry="2.60" fill="#0000ff"/>
<ellipse cx="250.38" cy="603.33" rx="2.75" ry="2.60" fill="#0000ff"/>
<ellipse cx="252.49" cy="601.79" rx="2.75" ry="2.60" fill="#0000ff"/>
<ellipse cx="254.61" cy="600.34" rx="2.75" ry="2.60" fill="#0000ff"/>
<ellipse cx="256.72" cy="598.97" rx="2.75" ry="2.60" fill="#0000ff"/>
<ellipse cx="258.84" cy="597.68" rx="2.75" ry="2.60" fill="#0000ff"/>
<ellipse cx="260.96" cy="596.48" rx="2.75" ry="2.60" fill="#0000ff"/>
<ellipse cx="263.07" cy="595.37" rx="2.75" ry="2.60" fill="#0000ff"/>
<ellipse cx="265.19" cy="594.33" rx="2.75" ry="2.60" fill="#0000ff"/>
<ellipse cx="267.31" cy="593.38" rx="2.75" ry="2.60" fill="#0000ff"/>
<ellipse cx="269.42" cy="592.51" rx="2.75" ry="2.60" fill="#0000ff"/>
<ellipse cx="271.54" cy="591.73" rx="2.75" ry="2.60" fill="#0000ff"/>
<ellipse cx="273.66" cy="591.04" rx="2.75" ry="2.60" fill="#0000ff"/>
<ellipse cx="275.77" cy="590.45" rx="2.75" ry="2.60" fill="#0000ff"/>
<ellipse cx="277.89" cy="589.95" rx="2.75" ry="2.60" fill="#0000ff"/>
<ellipse cx="280.01" cy="589.56" rx="2.75" ry="2.60" fill="#0000ff"/>
<ellipse cx="282.12" cy="589.28" rx="2.75" ry="2.60" fill="#0000ff"/>
<ellipse cx="284.24" cy="589.12" rx="2.75" ry="2.60" fill="#0000ff"/>
<ellipse cx="286.36" cy="589.07" rx="2.75" ry="2.60" fill="#0000ff"/>
<ellipse cx="288.47" cy="589.15" rx="2.75" ry="2.60" fill="#0000ff"/>
<ellipse cx="290.59" cy="589.36" rx="2.75" ry="2.60" fill="#0000ff"/>
<ellipse cx="292.70" cy="589.69" rx="2.75" ry="2.60" fill="#0000ff"/>
<ellipse cx="294.82" cy="590.16" rx="2.75" ry="2.60" fill="#0000ff"/>
<ellipse cx="296.94" cy="590.75" rx="2.75" ry="2.60" fill="#0000ff"/>
<ellipse cx="299.05" cy="591.47" rx="2.75" ry="2.60" fill="#0000ff"/>
<ellipse cx="301.17" cy="592.32" rx="2.75" ry="2.60" fill="#0000ff"/>
<ellipse cx="303.29" cy="593.29" rx="2.75" ry="2.60" fill="#0000ff"/>
<ellipse cx="305.40" cy="594.40" rx="2.75" ry="2.60" fill="#0000ff"/>
<ellipse cx="307.52" cy="595.64" rx="2.75" ry="2.60" fill="#0000ff"/>
<ellipse cx="309.64" cy="597.00" rx="2.75" ry="2.60" fill="#0000ff"/>
<ellipse cx="311.75" cy="598.50" rx="2.75" ry="2.60" fill="#0000ff"/>
<ellipse cx="313.87" cy="600.12" rx="2.75" ry="2.60" fill="#0000ff"/>
<ellipse cx="315.99" cy="601.88" rx="2.75" ry="2.60" fill="#0000ff"/>
<ellipse cx="318.10" cy="603.77" rx="2.75" ry="2.60" fill="#0000ff"/>
<ellipse cx="320.22" cy="605.79" rx="2.75" ry="2.60" fill="#0000ff"/>
<ellipse cx="322.34" cy="607.93" rx="2.75" ry="2.60" fill="#0000ff"/>
<ellipse cx="324.45" cy="610.21" rx="2.75" ry="2.60" fill="#0000ff"/>
<ellipse cx="326.57" cy="612.63" rx="2.75" ry="2.60" fill="#0000ff"/>
<ellipse cx="328.69" cy="615.17" rx="2.75" ry="2.60" fill="#0000ff"/>
<ellipse cx="330.80" cy="617.84" rx="2.75" ry="2.60" fill="#0000ff"/>
<ellipse cx="107.00" cy="653.06" rx="2.75" ry="2.60" fill="#0000ff"/>
<ellipse cx="332.92" cy="621.67" rx="2.75" ry="2.60" fill="#0000ff"/>
<ellipse cx="335.03" cy="626.49" rx="2.75" ry="2.60" fill="#0000ff"/>
<ellipse cx="337.15" cy="631.30" rx="2.75" ry="2.60" fill="#0000ff"/>
<ellipse cx="339.27" cy="636.00" rx="2.75" ry="2.60" fill="#0000ff"/>
<ellipse cx="341.38" cy="641.39" rx="2.75" ry="2.60" fill="#0000ff"/>
<ellipse cx="343.50" cy="647.00" rx="2.75" ry="2.60" fill="#0000ff"/>
<ellipse cx="345.62" cy="653.49" rx="2.75" ry="2.60" fill="#0000ff"/>
<ellipse cx="347.73" cy="660.61" rx="2.75" ry="2.60" fill="#0000ff"/>
<ellipse cx="349.85" cy="668.90" rx="2.75" ry="2.60" fill="#0000ff"/>
<ellipse cx="351.97" cy="679.38" rx="2.75" ry="2.60" fill="#0000ff"/>
<ellipse cx="354.08" cy="693.43" rx="2.75" ry="2.60" fill="#0000ff"/>
<ellipse cx="356.20" cy="723.90" rx="2.75" ry="2.60" fill="#0000ff"/>
<ellipse cx="108.57" cy="808.01" rx="2.75" ry="2.60" fill="#ff0000"/>
<ellipse cx="110.69" cy="808.14" rx="2.75" ry="2.60" fill="#ff0000"/>
<ellipse cx="112.80" cy="808.27" rx="2.75" ry="2.60" fill="#ff0000"/>
<ellipse cx="114.92" cy="808.38" rx="2.75" ry="2.60" fill="#ff0000"/>
<ellipse cx="117.04" cy="808.49" rx="2.75" ry="2.60" fill="#ff0000"/>
<ellipse cx="119.15" cy="808.60" rx="2.75" ry="2.60" fill="#ff0000"/>
<ellipse cx="121.27" cy="808.70" rx="2.75" ry="2.60" fill="#ff0000"/>
<ellipse cx="123.39" cy="808.80" rx="2.75" ry="2.60" fill="#ff0000"/>
<ellipse cx="125.50" cy="808.90" rx="2.75" ry="2.60" fill="#ff0000"/>
<ellipse cx="127.62" cy="809.00" rx="2.75" ry="2.60" fill="#ff0000"/>
<ellipse cx="129.73" cy="809.10" rx="2.75" ry="2.60" fill="#ff0000"/>
<ellipse cx="131.85" cy="809.20" rx="2.75" ry="2.60" fill="#ff0000"/>
<ellipse cx="133.97" cy="809.31" rx="2.75" ry="2.60" fill="#ff0000"/>
<ellipse cx="136.08" cy="809.42" rx="2.75" ry="2.60" fill="#ff0000"/>
<ellipse cx="138.20" cy="809.53" rx="2.75" ry="2.60" fill="#ff0000"/>
<ellipse cx="140.32" cy="809.65" rx="2.75" ry="2.60" fill="#ff0000"/>
<ellipse cx="142.43" cy="809.77" rx="2.75" ry="2.60" fill="#ff0000"/>
<ellipse cx="144.55" cy="809.91" rx="2.75" ry="2.60" fill="#ff0000"/>
<ellipse cx="146.67" cy="810.05" rx="2.75" ry="2.60" fill="#ff0000"/>
<ellipse cx="148.78" cy="810.20" rx="2.75" ry="2.60" fill="#ff0000"/>
<ellipse cx="150.90" cy="810.36" rx="2.75" ry="2.60" fill="#ff0000"/>
<ellipse cx="153.02" cy="810.54" rx="2.75" ry="2.60" fill="#ff0000"/>
<ellipse cx="155.13" cy="810.73" rx="2.75" ry="2.60" fill="#ff0000"/>
<ellipse cx="157.25" cy="810.93" rx="2.75" ry="2.60" fill="#ff0000"/>
<ellipse cx="159.37" cy="811.15" rx="2.75" ry="2.60" fill="#ff0000"/>
<ellipse cx="161.48" cy="811.38" rx="2.75" ry="2.60" fill="#ff0000"/>
<ellipse cx="163.60" cy="811.63" rx="2.75" ry="2.60" fill="#ff0000"/>
<ellipse cx="165.72" cy="811.90" rx="2.75" ry="2.60" fill="#ff0000"/>
<ellipse cx="167.83" cy="812.18" rx="2.75" ry="2.60" fill="#ff0000"/>
<ellipse cx="169.95" cy="812.49" rx="2.75" ry="2.60" fill="#ff0000"/>
<ellipse cx="172.06" cy="812.82" rx="2.75" ry="2.60" fill="#ff0000"/>
<ellipse cx="174.18" cy="813.17" rx="2.75" ry="2.60" fill="#ff0000"/>
<ellipse cx="176.30" cy="813.54" rx="2.75" ry="2.60" fill="#ff0000"/>
<ellipse cx="178.41" cy="813.94" rx="2.75" ry="2.60" fill="#ff0000"/>
<ellipse cx="180.53" cy="814.37" rx="2.75" ry="2.60" fill="#ff0000"/>
<ellipse cx="182.65" cy="814.83" rx="2.75" ry="2.60" fill="#ff0000"/>
<ellipse cx="184.76" cy="815.33" rx="2.75" ry="2.60" fill="#ff0000"/>
<ellipse cx="186.88" cy="815.86" rx="2.75" ry="2.60" fill="#ff0000"/>
<ellipse cx="189.00" cy="816.45" rx="2.75" ry="2.60" fill="#ff0000"/>
<ellipse cx="191.11" cy="817.07" rx="2.75" ry="2.60" fill="#ff0000"/>
<ellipse cx="193.23" cy="817.75" rx="2.75" ry="2.60" fill="#ff0000"/>
<ellipse cx="195.35" cy="818.49" rx="2.75" ry="2.60" fill="#ff0000"/>
<ellipse cx="197.46" cy="819.28" rx="2.75" ry="2.60" fill="#ff0000"/>
<ellipse cx="199.58" cy="820.14" rx="2.75" ry="2.60" fill="#ff0000"/>
<ellipse cx="201.70" cy="821.06" rx="2.75" ry="2.60" fill="#ff0000"/>
<ellipse cx="203.81" cy="822.05" rx="2.75" ry="2.60" fill="#ff0000"/>
<ellipse cx="205.93" cy="823.12" rx="2.75" ry="2.60" fill="#ff0000"/>
<ellipse cx="208.04" cy="824.26" rx="2.75" ry="2.60" fill="#ff0000"/>
<ellipse cx="210.16" cy="825.47" rx="2.75" ry="2.60" fill="#ff0000"/>
<ellipse cx="212.28" cy="826.75" rx="2.75" ry="2.60" fill="#ff0000"/>
<ellipse cx="214.39" cy="828.10" rx="2.75" ry="2.60" fill="#ff0000"/>
<ellipse cx="216.51" cy="829.50" rx="2.75" ry="2.60" fill="#ff0000"/>
<ellipse cx="218.63" cy="830.95" rx="2.75" ry="2.60" fill="#ff0000"/>
<ellipse cx="220.74" cy="832.45" rx="2.75" ry="2.60" fill="#ff0000"/>
<ellipse cx="222.86" cy="834.00" rx="2.75" ry="2.60" fill="#ff0000"/>
<ellipse cx="224.98" cy="835.58" rx="2.75" ry="2.60" fill="#ff0000"/>
<ellipse cx="227.09" cy="837.21" rx="2.75" ry="2.60" fill="#ff0000"/>
<ellipse cx="229.21" cy="838.86" rx="2.75" ry="2.60" fill="#ff0000"/>
<ellipse cx="231.33" cy="840.54" rx="2.75" ry="2.60" fill="#ff0000"/>
<ellipse cx="233.44" cy="842.24" rx="2.75" ry="2.60" fill="#ff0000"/>
<ellipse cx="235.56" cy="843.95" rx="2.75" ry="2.60" fill="#ff0000"/>
<ellipse cx="237.68" cy="845.68" rx="2.75" ry="2.60" fill="#ff0000"/>
<ellipse cx="239.79" cy="847.42" rx="2.75" ry="2.60" fill="#ff0000"/>
<ellipse cx="241.91" cy="849.15" rx="2.75" ry="2.60" fill="#ff0000"/>
<ellipse cx="244.03" cy="850.87" rx="2.75" ry="2.60" fill="#ff0000"/>
<ellipse cx="246.14" cy="852.57" rx="2.75" ry="2.60" fill="#ff0000"/>
<ellipse cx="248.26" cy="854.24" rx="2.75" ry="2.60" fill="#ff0000"/>
<ellipse cx="250.38" cy="855.88" rx="2.75" ry="2.60" fill="#ff0000"/>
<ellipse cx="252.49" cy="857.46" rx="2.75" ry="2.60" fill="#ff0000"/>
<ellipse cx="254.61" cy="858.99" rx="2.75" ry="2.60" fill="#ff0000"/>
<ellipse cx="256.72" cy="860.45" rx="2.75" ry="2.60" fill="#ff0000"/>
<ellipse cx="258.84" cy="861.84" rx="2.75" ry="2.60" fill="#ff0000"/>
<ellipse cx="260.96" cy="863.14" rx="2.75" ry="2.60" fill="#ff0000"/>
<ellipse cx="263.07" cy="864.35" rx="2.75" ry="2.60" fill="#ff0000"/>
<ellipse cx="265.19" cy="865.46" rx="2.75" ry="2.60" fill="#ff0000"/>
<ellipse cx="267.31" cy="866.46" rx="2.75" ry="2.60" fill="#ff0000"/>
<ellipse cx="269.42" cy="867.34" rx="2.75" ry="2.60" fill="#ff0000"/>
<ellipse cx="271.54" cy="868.10" rx="2.75" ry="2.60" fill="#ff0000"/>
<ellipse cx="273.66" cy="868.73" rx="2.75" ry="2.60" fill="#ff0000"/>
<ellipse cx="275.77" cy="869.23" rx="2.75" ry="2.60" fill="#ff0000"/>
<ellipse cx="277.89" cy="869.61" rx="2.75" ry="2.60" fill="#ff0000"/>
<ellipse cx="280.01" cy="869.87" rx="2.75" ry="2.60" fill="#ff0000"/>
<ellipse cx="282.12" cy="870.00" rx="2.75" ry="2.60" fill="#ff0000"/>
<ellipse cx="284.24" cy="869.99" rx="2.75" ry="2.60" fill="#ff0000"/>
<ellipse cx="286.36" cy="869.87" rx="2.75" ry="2.60" fill="#ff0000"/>
<ellipse cx="288.47" cy="869.61" rx="2.75" ry="2.60" fill="#ff0000"/>
<ellipse cx="290.59" cy="869.22" rx="2.75" ry="2.60" fill="#ff0000"/>
<ellipse cx="292.70" cy="868.71" rx="2.75" ry="2.60" fill="#ff0000"/>
<ellipse cx="294.82" cy="868.06" rx="2.75" ry="2.60" fill="#ff0000"/>
<ellipse cx="296.94" cy="867.28" rx="2.75" ry="2.60" fill="#ff0000"/>
<ellipse cx="299.05" cy="866.37" rx="2.75" ry="2.60" fill="#ff0000"/>
<ellipse cx="301.17" cy="865.33" rx="2.75" ry="2.60" fill="#ff0000"/>
<ellipse cx="303.29" cy="864.15" rx="2.75" ry="2.60" fill="#ff0000"/>
<ellipse cx="305.40" cy="862.85" rx="2.75" ry="2.60" fill="#ff0000"/>
<ellipse cx="307.52" cy="861.40" rx="2.75" ry="2.60" fill="#ff0000"/>
<ellipse cx="309.64" cy="859.82" rx="2.75" ry="2.60" fill="#ff0000"/>
<ellipse cx="311.75" cy="858.11" rx="2.75" ry="2.60" fill="#ff0000"/>
<ellipse cx="313.87" cy="856.26" rx="2.75" ry="2.60" fill="#ff0000"/>
<ellipse cx="315.99" cy="854.28" rx="2.75" ry="2.60" fill="#ff0000"/>
<ellipse cx="318.10" cy="852.15" rx="2.75" ry="2.60" fill="#ff0000"/>
<ellipse cx="320.22" cy="849.89" rx="2.75" ry="2.60" fill="#ff0000"/>
<ellipse cx="322.34" cy="847.49" rx="2.75" ry="2.60" fill="#ff0000"/>
<ellipse cx="324.45" cy="844.96" rx="2.75" ry="2.60" fill="#ff0000"/>
<ellipse cx="326.57" cy="842.28" rx="2.75" ry="2.60" fill="#ff0000"/>
<ellipse cx="328.69" cy="839.46" rx="2.75" ry="2.60" fill="#ff0000"/>
<ellipse cx="330.80" cy="836.50" rx="2.75" ry="2.60" fill="#ff0000"/>
<ellipse cx="107.00" cy="807.91" rx="2.75" ry="2.60" fill="#ff0000"/>
<ellipse cx="332.92" cy="833.37" rx="2.75" ry="2.60" fill="#ff0000"/>
<ellipse cx="335.03" cy="829.51" rx="2.75" ry="2.60" fill="#ff0000"/>
<ellipse cx="337.15" cy="825.30" rx="2.75" ry="2.60" fill="#ff0000"/>
<ellipse cx="339.27" cy="820.50" rx="2.75" ry="2.60" fill="#ff0000"/>
<ellipse cx="341.38" cy="815.31" rx="2.75" ry="2.60" fill="#ff0000"/>
<ellipse cx="343.50" cy="809.40" rx="2.75" ry="2.60" fill="#ff0000"/>
<ellipse cx="345.62" cy="803.11" rx="2.75" ry="2.60" fill="#ff0000"/>
<ellipse cx="347.73" cy="795.28" rx="2.75" ry="2.60" fill="#ff0000"/>
<ellipse cx="349.85" cy="786.60" rx="2.75" ry="2.60" fill="#ff0000"/>
<ellipse cx="351.97" cy="776.52" rx="2.75" ry="2.60" fill="#ff0000"/>
<ellipse cx="354.08" cy="762.37" rx="2.75" ry="2.60" fill="#ff0000"/>
<ellipse cx="356.20" cy="744.68" rx="2.75" ry="2.60" fill="#0000ff"/>
<ellipse cx="358.32" cy="746.38" rx="2.75" ry="2.60" fill="#0000ff"/>
<ellipse cx="360.43" cy="746.98" rx="2.75" ry="2.60" fill="#0000ff"/>
<ellipse cx="362.55" cy="747.36" rx="2.75" ry="2.60" fill="#0000ff"/>
<ellipse cx="364.67" cy="747.61" rx="2.75" ry="2.60" fill="#0000ff"/>
<ellipse cx="366.78" cy="747.80" rx="2.75" ry="2.60" fill="#0000ff"/>
<ellipse cx="368.90" cy="747.97" rx="2.75" ry="2.60" fill="#0000ff"/>
<ellipse cx="371.02" cy="748.12" rx="2.75" ry="2.60" fill="#0000ff"/>
<ellipse cx="373.13" cy="748.25" rx="2.75" ry="2.60" fill="#0000ff"/>
<ellipse cx="375.25" cy="748.36" rx="2.75" ry="2.60" fill="#0000ff"/>
<ellipse cx="377.37" cy="748.44" rx="2.75" ry="2.60" fill="#0000ff"/>
<ellipse cx="379.48" cy="748.49" rx="2.75" ry="2.60" fill="#0000ff"/>
<ellipse cx="381.60" cy="748.50" rx="2.75" ry="2.60" fill="#0000ff"/>
<ellipse cx="383.71" cy="748.49" rx="2.75" ry="2.60" fill="#0000ff"/>
<ellipse cx="385.83" cy="748.45" rx="2.75" ry="2.60" fill="#0000ff"/>
<ellipse cx="387.95" cy="748.41" rx="2.75" ry="2.60" fill="#0000ff"/>
<ellipse cx="390.06" cy="748.35" rx="2.75" ry="2.60" fill="#0000ff"/>
<ellipse cx="392.18" cy="748.28" rx="2.75" ry="2.60" fill="#0000ff"/>
<ellipse cx="394.30" cy="748.20" rx="2.75" ry="2.60" fill="#0000ff"/>
<ellipse cx="396.41" cy="748.12" rx="2.75" ry="2.60" fill="#0000ff"/>
<ellipse cx="398.53" cy="748.04" rx="2.75" ry="2.60" fill="#0000ff"/>
<ellipse cx="400.65" cy="747.93" rx="2.75" ry="2.60" fill="#0000ff"/>
<ellipse cx="402.76" cy="747.80" rx="2.75" ry="2.60" fill="#0000ff"/>
<ellipse cx="404.88" cy="747.65" rx="2.75" ry="2.60" fill="#0000ff"/>
<ellipse cx="407.00" cy="747.48" rx="2.75" ry="2.60" fill="#0000ff"/>
<ellipse cx="409.11" cy="747.31" rx="2.75" ry="2.60" fill="#0000ff"/>
<ellipse cx="411.23" cy="747.12" rx="2.75" ry="2.60" fill="#0000ff"/>
<ellipse cx="413.35" cy="746.93" rx="2.75" ry="2.60" fill="#0000ff"/>
<ellipse cx="415.46" cy="746.72" rx="2.75" ry="2.60" fill="#0000ff"/>
<ellipse cx="417.58" cy="746.49" rx="2.75" ry="2.60" fill="#0000ff"/>
<ellipse cx="419.69" cy="746.23" rx="2.75" ry="2.60" fill="#0000ff"/>
<ellipse cx="421.81" cy="745.96" rx="2.75" ry="2.60" fill="#0000ff"/>
<ellipse cx="423.93" cy="745.66" rx="2.75" ry="2.60" fill="#0000ff"/>
<ellipse cx="426.04" cy="745.34" rx="2.75" ry="2.60" fill="#0000ff"/>
<ellipse cx="428.16" cy="745.01" rx="2.75" ry="2.60" fill="#0000ff"/>
<ellipse cx="430.28" cy="744.61" rx="2.75" ry="2.60" fill="#0000ff"/>
<ellipse cx="432.39" cy="744.14" rx="2.75" ry="2.60" fill="#0000ff"/>
<ellipse cx="434.51" cy="743.64" rx="2.75" ry="2.60" fill="#0000ff"/>
<ellipse cx="436.63" cy="743.13" rx="2.75" ry="2.60" fill="#0000ff"/>
<ellipse cx="438.74" cy="742.65" rx="2.75" ry="2.60" fill="#0000ff"/>
<ellipse cx="440.86" cy="742.24" rx="2.75" ry="2.60" fill="#0000ff"/>
<ellipse cx="442.98" cy="741.87" rx="2.75" ry="2.60" fill="#0000ff"/>
<ellipse cx="445.09" cy="741.52" rx="2.75" ry="2.60" fill="#0000ff"/>
<ellipse cx="447.21" cy="741.18" rx="2.75" ry="2.60" fill="#0000ff"/>
<ellipse cx="449.33" cy="740.86" rx="2.75" ry="2.60" fill="#0000ff"/>
<ellipse cx="451.44" cy="740.53" rx="2.75" ry="2.60" fill="#0000ff"/>
<ellipse cx="453.56" cy="740.20" rx="2.75" ry="2.60" fill="#0000ff"/>
<ellipse cx="455.68" cy="739.85" rx="2.75" ry="2.60" fill="#0000ff"/>
<ellipse cx="457.79" cy="739.50" rx="2.75" ry="2.60" fill="#0000ff"/>
<ellipse cx="459.91" cy="739.14" rx="2.75" ry="2.60" fill="#0000ff"/>
<ellipse cx="462.02" cy="738.78" rx="2.75" ry="2.60" fill="#0000ff"/>
<ellipse cx="464.14" cy="738.41" rx="2.75" ry="2.60" fill="#0000ff"/>
<ellipse cx="466.26" cy="738.04" rx="2.75" ry="2.60" fill="#0000ff"/>
<ellipse cx="468.37" cy="737.66" rx="2.75" ry="2.60" fill="#0000ff"/>
<ellipse cx="470.49" cy="737.28" rx="2.75" ry="2.60" fill="#0000ff"/>
<ellipse cx="472.61" cy="736.89" rx="2.75" ry="2.60" fill="#0000ff"/>
<ellipse cx="474.72" cy="736.48" rx="2.75" ry="2.60" fill="#0000ff"/>
<ellipse cx="476.84" cy="736.08" rx="2.75" ry="2.60" fill="#0000ff"/>
<ellipse cx="478.96" cy="735.66" rx="2.75" ry="2.60" fill="#0000ff"/>
<ellipse cx="481.07" cy="735.23" rx="2.75" ry="2.60" fill="#0000ff"/>
<ellipse cx="483.19" cy="734.80" rx="2.75" ry="2.60" fill="#0000ff"/>
<ellipse cx="485.31" cy="734.37" rx="2.75" ry="2.60" fill="#0000ff"/>
<ellipse cx="487.42" cy="733.92" rx="2.75" ry="2.60" fill="#0000ff"/>
<ellipse cx="489.54" cy="733.48" rx="2.75" ry="2.60" fill="#0000ff"/>
<ellipse cx="491.66" cy="733.03" rx="2.75" ry="2.60" fill="#0000ff"/>
<ellipse cx="493.77" cy="732.58" rx="2.75" ry="2.60" fill="#0000ff"/>
<ellipse cx="495.89" cy="732.12" rx="2.75" ry="2.60" fill="#0000ff"/>
<ellipse cx="498.01" cy="731.65" rx="2.75" ry="2.60" fill="#0000ff"/>
<ellipse cx="500.12" cy="731.16" rx="2.75" ry="2.60" fill="#0000ff"/>
<ellipse cx="502.24" cy="730.65" rx="2.75" ry="2.60" fill="#0000ff"/>
<ellipse cx="504.36" cy="730.11" rx="2.75" ry="2.60" fill="#0000ff"/>
<ellipse cx="506.47" cy="729.52" rx="2.75" ry="2.60" fill="#0000ff"/>
<ellipse cx="508.59" cy="728.90" rx="2.75" ry="2.60" fill="#0000ff"/>
<ellipse cx="510.70" cy="728.25" rx="2.75" ry="2.60" fill="#0000ff"/>
<ellipse cx="512.82" cy="727.58" rx="2.75" ry="2.60" fill="#0000ff"/>
<ellipse cx="514.94" cy="726.88" rx="2.75" ry="2.60" fill="#0000ff"/>
<ellipse cx="517.05" cy="726.18" rx="2.75" ry="2.60" fill="#0000ff"/>
<ellipse cx="519.17" cy="725.47" rx="2.75" ry="2.60" fill="#0000ff"/>
<ellipse cx="521.29" cy="724.73" rx="2.75" ry="2.60" fill="#0000ff"/>
<ellipse cx="523.40" cy="723.98" rx="2.75" ry="2.60" fill="#0000ff"/>
<ellipse cx="525.52" cy="723.21" rx="2.75" ry="2.60" fill="#0000ff"/>
<ellipse cx="527.64" cy="722.42" rx="2.75" ry="2.60" fill="#0000ff"/>
<ellipse cx="529.75" cy="721.61" rx="2.75" ry="2.60" fill="#0000ff"/>
<ellipse cx="530.30" cy="721.40" rx="2.75" ry="2.60" fill="#0000ff"/>
<ellipse cx="355.80" cy="744.00" rx="2.75" ry="2.60" fill="#0000ff"/>
<ellipse cx="356.20" cy="742.65" rx="2.75" ry="2.60" fill="#ff0000"/>
<ellipse cx="358.32" cy="740.14" rx="2.75" ry="2.60" fill="#ff0000"/>
<ellipse cx="360.43" cy="738.94" rx="2.75" ry="2.60" fill="#ff0000"/>
<ellipse cx="362.55" cy="738.09" rx="2.75" ry="2.60" fill="#ff0000"/>
<ellipse cx="364.67" cy="737.45" rx="2.75" ry="2.60" fill="#ff0000"/>
<ellipse cx="366.78" cy="736.90" rx="2.75" ry="2.60" fill="#ff0000"/>
<ellipse cx="368.90" cy="736.41" rx="2.75" ry="2.60" fill="#ff0000"/>
<ellipse cx="371.02" cy="735.97" rx="2.75" ry="2.60" fill="#ff0000"/>
<ellipse cx="373.13" cy="735.58" rx="2.75" ry="2.60" fill="#ff0000"/>
<ellipse cx="375.25" cy="735.23" rx="2.75" ry="2.60" fill="#ff0000"/>
<ellipse cx="377.37" cy="734.92" rx="2.75" ry="2.60" fill="#ff0000"/>
<ellipse cx="379.48" cy="734.63" rx="2.75" ry="2.60" fill="#ff0000"/>
<ellipse cx="381.60" cy="734.36" rx="2.75" ry="2.60" fill="#ff0000"/>
<ellipse cx="383.71" cy="734.11" rx="2.75" ry="2.60" fill="#ff0000"/>
<ellipse cx="385.83" cy="733.87" rx="2.75" ry="2.60" fill="#ff0000"/>
<ellipse cx="387.95" cy="733.65" rx="2.75" ry="2.60" fill="#ff0000"/>
<ellipse cx="390.06" cy="733.45" rx="2.75" ry="2.60" fill="#ff0000"/>
<ellipse cx="392.18" cy="733.26" rx="2.75" ry="2.60" fill="#ff0000"/>
<ellipse cx="394.30" cy="733.09" rx="2.75" ry="2.60" fill="#ff0000"/>
<ellipse cx="396.41" cy="732.94" rx="2.75" ry="2.60" fill="#ff0000"/>
<ellipse cx="398.53" cy="732.80" rx="2.75" ry="2.60" fill="#ff0000"/>
<ellipse cx="400.65" cy="732.68" rx="2.75" ry="2.60" fill="#ff0000"/>
<ellipse cx="402.76" cy="732.57" rx="2.75" ry="2.60" fill="#ff0000"/>
<ellipse cx="404.88" cy="732.47" rx="2.75" ry="2.60" fill="#ff0000"/>
<ellipse cx="407.00" cy="732.37" rx="2.75" ry="2.60" fill="#ff0000"/>
<ellipse cx="409.11" cy="732.27" rx="2.75" ry="2.60" fill="#ff0000"/>
<ellipse cx="411.23" cy="732.17" rx="2.75" ry="2.60" fill="#ff0000"/>
<ellipse cx="413.35" cy="732.06" rx="2.75" ry="2.60" fill="#ff0000"/>
<ellipse cx="415.46" cy="731.96" rx="2.75" ry="2.60" fill="#ff0000"/>
<ellipse cx="417.58" cy="731.86" rx="2.75" ry="2.60" fill="#ff0000"/>
<ellipse cx="419.69" cy="731.75" rx="2.75" ry="2.60" fill="#ff0000"/>
<ellipse cx="421.81" cy="731.65" rx="2.75" ry="2.60" fill="#ff0000"/>
<ellipse cx="423.93" cy="731.54" rx="2.75" ry="2.60" fill="#ff0000"/>
<ellipse cx="426.04" cy="731.43" rx="2.75" ry="2.60" fill="#ff0000"/>
<ellipse cx="428.16" cy="731.30" rx="2.75" ry="2.60" fill="#ff0000"/>
<ellipse cx="430.28" cy="731.15" rx="2.75" ry="2.60" fill="#ff0000"/>
<ellipse cx="432.39" cy="730.98" rx="2.75" ry="2.60" fill="#ff0000"/>
<ellipse cx="434.51" cy="730.79" rx="2.75" ry="2.60" fill="#ff0000"/>
<ellipse cx="436.63" cy="730.62" rx="2.75" ry="2.60" fill="#ff0000"/>
<ellipse cx="438.74" cy="730.47" rx="2.75" ry="2.60" fill="#ff0000"/>
<ellipse cx="440.86" cy="730.36" rx="2.75" ry="2.60" fill="#ff0000"/>
<ellipse cx="442.98" cy="730.27" rx="2.75" ry="2.60" fill="#ff0000"/>
<ellipse cx="445.09" cy="730.18" rx="2.75" ry="2.60" fill="#ff0000"/>
<ellipse cx="447.21" cy="730.11" rx="2.75" ry="2.60" fill="#ff0000"/>
<ellipse cx="449.33" cy="730.04" rx="2.75" ry="2.60" fill="#ff0000"/>
<ellipse cx="451.44" cy="729.97" rx="2.75" ry="2.60" fill="#ff0000"/>
<ellipse cx="453.56" cy="729.91" rx="2.75" ry="2.60" fill="#ff0000"/>
<ellipse cx="455.68" cy="729.85" rx="2.75" ry="2.60" fill="#ff0000"/>
<ellipse cx="457.79" cy="729.79" rx="2.75" ry="2.60" fill="#ff0000"/>
<ellipse cx="459.91" cy="729.73" rx="2.75" ry="2.60" fill="#ff0000"/>
<ellipse cx="462.02" cy="729.66" rx="2.75" ry="2.60" fill="#ff0000"/>
<ellipse cx="464.14" cy="729.60" rx="2.75" ry="2.60" fill="#ff0000"/>
<ellipse cx="466.26" cy="729.53" rx="2.75" ry="2.60" fill="#ff0000"/>
<ellipse cx="468.37" cy="729.46" rx="2.75" ry="2.60" fill="#ff0000"/>
<ellipse cx="470.49" cy="729.39" rx="2.75" ry="2.60" fill="#ff0000"/>
<ellipse cx="472.61" cy="729.32" rx="2.75" ry="2.60" fill="#ff0000"/>
<ellipse cx="474.72" cy="729.25" rx="2.75" ry="2.60" fill="#ff0000"/>
<ellipse cx="476.84" cy="729.18" rx="2.75" ry="2.60" fill="#ff0000"/>
<ellipse cx="478.96" cy="729.11" rx="2.75" ry="2.60" fill="#ff0000"/>
<ellipse cx="481.07" cy="729.04" rx="2.75" ry="2.60" fill="#ff0000"/>
<ellipse cx="483.19" cy="728.97" rx="2.75" ry="2.60" fill="#ff0000"/>
<ellipse cx="485.31" cy="728.90" rx="2.75" ry="2.60" fill="#ff0000"/>
<ellipse cx="487.42" cy="728.82" rx="2.75" ry="2.60" fill="#ff0000"/>
<ellipse cx="489.54" cy="728.74" rx="2.75" ry="2.60" fill="#ff0000"/>
<ellipse cx="491.66" cy="728.66" rx="2.75" ry="2.60" fill="#ff0000"/>
<ellipse cx="493.77" cy="728.58" rx="2.75" ry="2.60" fill="#ff0000"/>
<ellipse cx="495.89" cy="728.49" rx="2.75" ry="2.60" fill="#ff0000"/>
<ellipse cx="498.01" cy="728.41" rx="2.75" ry="2.60" fill="#ff0000"/>
<ellipse cx="500.12" cy="728.32" rx="2.75" ry="2.60" fill="#ff0000"/>
<ellipse cx="502.24" cy="728.23" rx="2.75" ry="2.60" fill="#ff0000"/>
<ellipse cx="504.36" cy="728.14" rx="2.75" ry="2.60" fill="#ff0000"/>
<ellipse cx="506.47" cy="728.05" rx="2.75" ry="2.60" fill="#ff0000"/>
<ellipse cx="508.59" cy="727.96" rx="2.75" ry="2.60" fill="#ff0000"/>
<ellipse cx="510.70" cy="727.87" rx="2.75" ry="2.60" fill="#ff0000"/>
<ellipse cx="512.82" cy="727.78" rx="2.75" ry="2.60" fill="#ff0000"/>
<ellipse cx="514.94" cy="727.69" rx="2.75" ry="2.60" fill="#ff0000"/>
<ellipse cx="517.05" cy="727.60" rx="2.75" ry="2.60" fill="#ff0000"/>
<ellipse cx="519.17" cy="727.50" rx="2.75" ry="2.60" fill="#ff0000"/>
<ellipse cx="521.29" cy="727.41" rx="2.75" ry="2.60" fill="#ff0000"/>
<ellipse cx="523.40" cy="727.31" rx="2.75" ry="2.60" fill="#ff0000"/>
<ellipse cx="525.52" cy="727.22" rx="2.75" ry="2.60" fill="#ff0000"/>
<ellipse cx="527.64" cy="727.12" rx="2.75" ry="2.60" fill="#ff0000"/>
<ellipse cx="529.75" cy="727.03" rx="2.75" ry="2.60" fill="#ff0000"/>
<ellipse cx="530.30" cy="727.00" rx="2.75" ry="2.60" fill="#ff0000"/>
<ellipse cx="355.80" cy="743.30" rx="2.75" ry="2.60" fill="#ff0000"/>
<ellipse cx="700.13" cy="218.68" rx="2.75" ry="2.60" fill="#0000ff"/>
<ellipse cx="702.25" cy="219.33" rx="2.75" ry="2.60" fill="#0000ff"/>
<ellipse cx="704.37" cy="219.99" rx="2.75" ry="2.60" fill="#0000ff"/>
<ellipse cx="706.49" cy="220.66" rx="2.75" ry="2.60" fill="#0000ff"/>
<ellipse cx="708.61" cy="221.34" rx="2.75" ry="2.60" fill="#0000ff"/>
<ellipse cx="710.72" cy="222.03" rx="2.75" ry="2.60" fill="#0000ff"/>
<ellipse cx="712.84" cy="222.74" rx="2.75" ry="2.60" fill="#0000ff"/>
<ellipse cx="714.96" cy="223.45" rx="2.75" ry="2.60" fill="#0000ff"/>
<ellipse cx="717.08" cy="224.17" rx="2.75" ry="2.60" fill="#0000ff"/>
<ellipse cx="719.19" cy="224.90" rx="2.75" ry="2.60" fill="#0000ff"/>
<ellipse cx="721.31" cy="225.65" rx="2.75" ry="2.60" fill="#0000ff"/>
<ellipse cx="723.43" cy="226.41" rx="2.75" ry="2.60" fill="#0000ff"/>
<ellipse cx="725.55" cy="227.18" rx="2.75" ry="2.60" fill="#0000ff"/>
<ellipse cx="727.66" cy="227.96" rx="2.75" ry="2.60" fill="#0000ff"/>
<ellipse cx="729.78" cy="228.76" rx="2.75" ry="2.60" fill="#0000ff"/>
<ellipse cx="731.90" cy="229.57" rx="2.75" ry="2.60" fill="#0000ff"/>
<ellipse cx="734.01" cy="230.40" rx="2.75" ry="2.60" fill="#0000ff"/>
<ellipse cx="736.13" cy="231.25" rx="2.75" ry="2.60" fill="#0000ff"/>
<ellipse cx="738.25" cy="232.11" rx="2.75" ry="2.60" fill="#0000ff"/>
<ellipse cx="740.37" cy="232.99" rx="2.75" ry="2.60" fill="#0000ff"/>
<ellipse cx="742.49" cy="233.89" rx="2.75" ry="2.60" fill="#0000ff"/>
<ellipse cx="744.60" cy="234.81" rx="2.75" ry="2.60" fill="#0000ff"/>
<ellipse cx="746.72" cy="235.75" rx="2.75" ry="2.60" fill="#0000ff"/>
<ellipse cx="748.84" cy="236.71" rx="2.75" ry="2.60" fill="#0000ff"/>
<ellipse cx="750.96" cy="237.71" rx="2.75" ry="2.60" fill="#0000ff"/>
<ellipse cx="753.07" cy="238.73" rx="2.75" ry="2.60" fill="#0000ff"/>
<ellipse cx="755.19" cy="239.78" rx="2.75" ry="2.60" fill="#0000ff"/>
<ellipse cx="757.31" cy="240.86" rx="2.75" ry="2.60" fill="#0000ff"/>
<ellipse cx="759.43" cy="241.98" rx="2.75" ry="2.60" fill="#0000ff"/>
<ellipse cx="761.54" cy="243.15" rx="2.75" ry="2.60" fill="#0000ff"/>
<ellipse cx="763.66" cy="244.36" rx="2.75" ry="2.60" fill="#0000ff"/>
<ellipse cx="765.78" cy="245.64" rx="2.75" ry="2.60" fill="#0000ff"/>
<ellipse cx="767.89" cy="246.98" rx="2.75" ry="2.60" fill="#0000ff"/>
<ellipse cx="770.01" cy="248.41" rx="2.75" ry="2.60" fill="#0000ff"/>
<ellipse cx="772.13" cy="249.94" rx="2.75" ry="2.60" fill="#0000ff"/>
<ellipse cx="774.25" cy="251.62" rx="2.75" ry="2.60" fill="#0000ff"/>
<ellipse cx="776.37" cy="253.52" rx="2.75" ry="2.60" fill="#0000ff"/>
<ellipse cx="778.48" cy="255.80" rx="2.75" ry="2.60" fill="#0000ff"/>
<ellipse cx="780.60" cy="259.14" rx="2.75" ry="2.60" fill="#0000ff"/>
<ellipse cx="698.50" cy="218.18" rx="2.75" ry="2.60" fill="#0000ff"/>
<ellipse cx="780.60" cy="257.49" rx="2.75" ry="2.60" fill="#0000ff"/>
<ellipse cx="782.72" cy="258.55" rx="2.75" ry="2.60" fill="#0000ff"/>
<ellipse cx="784.84" cy="259.14" rx="2.75" ry="2.60" fill="#0000ff"/>
<ellipse cx="786.95" cy="259.56" rx="2.75" ry="2.60" fill="#0000ff"/>
<ellipse cx="789.07" cy="259.90" rx="2.75" ry="2.60" fill="#0000ff"/>
<ellipse cx="791.19" cy="260.18" rx="2.75" ry="2.60" fill="#0000ff"/>
<ellipse cx="793.31" cy="260.42" rx="2.75" ry="2.60" fill="#0000ff"/>
<ellipse cx="795.42" cy="260.63" rx="2.75" ry="2.60" fill="#0000ff"/>
<ellipse cx="797.54" cy="260.81" rx="2.75" ry="2.60" fill="#0000ff"/>
<ellipse cx="799.66" cy="260.98" rx="2.75" ry="2.60" fill="#0000ff"/>
<ellipse cx="801.77" cy="261.13" rx="2.75" ry="2.60" fill="#0000ff"/>
<ellipse cx="803.89" cy="261.27" rx="2.75" ry="2.60" fill="#0000ff"/>
<ellipse cx="806.01" cy="261.39" rx="2.75" ry="2.60" fill="#0000ff"/>
<ellipse cx="808.13" cy="261.51" rx="2.75" ry="2.60" fill="#0000ff"/>
<ellipse cx="810.25" cy="261.62" rx="2.75" ry="2.60" fill="#0000ff"/>
<ellipse cx="812.36" cy="261.72" rx="2.75" ry="2.60" fill="#0000ff"/>
<ellipse cx="814.48" cy="261.82" rx="2.75" ry="2.60" fill="#0000ff"/>
<ellipse cx="816.60" cy="261.91" rx="2.75" ry="2.60" fill="#0000ff"/>
<ellipse cx="818.72" cy="262.00" rx="2.75" ry="2.60" fill="#0000ff"/>
<ellipse cx="820.83" cy="262.08" rx="2.75" ry="2.60" fill="#0000ff"/>
<ellipse cx="822.95" cy="262.16" rx="2.75" ry="2.60" fill="#0000ff"/>
<ellipse cx="825.07" cy="262.23" rx="2.75" ry="2.60" fill="#0000ff"/>
<ellipse cx="827.19" cy="262.30" rx="2.75" ry="2.60" fill="#0000ff"/>
<ellipse cx="829.30" cy="262.37" rx="2.75" ry="2.60" fill="#0000ff"/>
<ellipse cx="831.42" cy="262.44" rx="2.75" ry="2.60" fill="#0000ff"/>
<ellipse cx="833.54" cy="262.50" rx="2.75" ry="2.60" fill="#0000ff"/>
<ellipse cx="835.65" cy="262.56" rx="2.75" ry="2.60" fill="#0000ff"/>
<ellipse cx="837.77" cy="262.62" rx="2.75" ry="2.60" fill="#0000ff"/>
<ellipse cx="839.89" cy="262.68" rx="2.75" ry="2.60" fill="#0000ff"/>
<ellipse cx="842.01" cy="262.73" rx="2.75" ry="2.60" fill="#0000ff"/>
<ellipse cx="844.12" cy="262.79" rx="2.75" ry="2.60" fill="#0000ff"/>
<ellipse cx="846.24" cy="262.84" rx="2.75" ry="2.60" fill="#0000ff"/>
<ellipse cx="848.36" cy="262.90" rx="2.75" ry="2.60" fill="#0000ff"/>
<ellipse cx="850.48" cy="262.95" rx="2.75" ry="2.60" fill="#0000ff"/>
<ellipse cx="852.60" cy="263.00" rx="2.75" ry="2.60" fill="#0000ff"/>
<ellipse cx="854.71" cy="263.05" rx="2.75" ry="2.60" fill="#0000ff"/>
<ellipse cx="856.83" cy="263.10" rx="2.75" ry="2.60" fill="#0000ff"/>
<ellipse cx="858.95" cy="263.15" rx="2.75" ry="2.60" fill="#0000ff"/>
<ellipse cx="861.07" cy="263.20" rx="2.75" ry="2.60" fill="#0000ff"/>
<ellipse cx="863.18" cy="263.24" rx="2.75" ry="2.60" fill="#0000ff"/>
<ellipse cx="865.30" cy="263.29" rx="2.75" ry="2.60" fill="#0000ff"/>
<ellipse cx="867.42" cy="263.34" rx="2.75" ry="2.60" fill="#0000ff"/>
<ellipse cx="869.54" cy="263.39" rx="2.75" ry="2.60" fill="#0000ff"/>
<ellipse cx="871.65" cy="263.43" rx="2.75" ry="2.60" fill="#0000ff"/>
<ellipse cx="873.77" cy="263.48" rx="2.75" ry="2.60" fill="#0000ff"/>
<ellipse cx="875.89" cy="263.52" rx="2.75" ry="2.60" fill="#0000ff"/>
<ellipse cx="878.00" cy="263.57" rx="2.75" ry="2.60" fill="#0000ff"/>
<ellipse cx="880.12" cy="263.62" rx="2.75" ry="2.60" fill="#0000ff"/>
<ellipse cx="882.24" cy="263.66" rx="2.75" ry="2.60" fill="#0000ff"/>
<ellipse cx="884.36" cy="263.71" rx="2.75" ry="2.60" fill="#0000ff"/>
<ellipse cx="886.48" cy="263.76" rx="2.75" ry="2.60" fill="#0000ff"/>
<ellipse cx="888.59" cy="263.81" rx="2.75" ry="2.60" fill="#0000ff"/>
<ellipse cx="890.71" cy="263.86" rx="2.75" ry="2.60" fill="#0000ff"/>
<ellipse cx="892.83" cy="263.92" rx="2.75" ry="2.60" fill="#0000ff"/>
<ellipse cx="894.95" cy="263.99" rx="2.75" ry="2.60" fill="#0000ff"/>
<ellipse cx="897.06" cy="264.05" rx="2.75" ry="2.60" fill="#0000ff"/>
<ellipse cx="899.18" cy="264.13" rx="2.75" ry="2.60" fill="#0000ff"/>
<ellipse cx="901.30" cy="264.21" rx="2.75" ry="2.60" fill="#0000ff"/>
<ellipse cx="903.42" cy="264.30" rx="2.75" ry="2.60" fill="#0000ff"/>
<ellipse cx="905.53" cy="264.39" rx="2.75" ry="2.60" fill="#0000ff"/>
<ellipse cx="907.65" cy="264.49" rx="2.75" ry="2.60" fill="#0000ff"/>
<ellipse cx="909.77" cy="264.60" rx="2.75" ry="2.60" fill="#0000ff"/>
<ellipse cx="911.88" cy="264.72" rx="2.75" ry="2.60" fill="#0000ff"/>
<ellipse cx="914.00" cy="264.85" rx="2.75" ry="2.60" fill="#0000ff"/>
<ellipse cx="916.12" cy="264.99" rx="2.75" ry="2.60" fill="#0000ff"/>
<ellipse cx="918.24" cy="265.14" rx="2.75" ry="2.60" fill="#0000ff"/>
<ellipse cx="920.36" cy="265.30" rx="2.75" ry="2.60" fill="#0000ff"/>
<ellipse cx="922.47" cy="265.47" rx="2.75" ry="2.60" fill="#0000ff"/>
<ellipse cx="924.59" cy="265.65" rx="2.75" ry="2.60" fill="#0000ff"/>
<ellipse cx="926.71" cy="265.84" rx="2.75" ry="2.60" fill="#0000ff"/>
<ellipse cx="928.83" cy="266.04" rx="2.75" ry="2.60" fill="#0000ff"/>
<ellipse cx="930.94" cy="266.25" rx="2.75" ry="2.60" fill="#0000ff"/>
<ellipse cx="933.06" cy="266.48" rx="2.75" ry="2.60" fill="#0000ff"/>
<ellipse cx="935.18" cy="266.72" rx="2.75" ry="2.60" fill="#0000ff"/>
<ellipse cx="937.30" cy="266.97" rx="2.75" ry="2.60" fill="#0000ff"/>
<ellipse cx="939.41" cy="267.23" rx="2.75" ry="2.60" fill="#0000ff"/>
<ellipse cx="941.53" cy="267.50" rx="2.75" ry="2.60" fill="#0000ff"/>
<ellipse cx="943.65" cy="267.79" rx="2.75" ry="2.60" fill="#0000ff"/>
<ellipse cx="945.77" cy="268.09" rx="2.75" ry="2.60" fill="#0000ff"/>
<ellipse cx="947.88" cy="268.41" rx="2.75" ry="2.60" fill="#0000ff"/>
<ellipse cx="950.00" cy="268.74" rx="2.75" ry="2.60" fill="#0000ff"/>
<ellipse cx="952.12" cy="269.08" rx="2.75" ry="2.60" fill="#0000ff"/>
<ellipse cx="954.24" cy="269.43" rx="2.75" ry="2.60" fill="#0000ff"/>
<ellipse cx="956.35" cy="269.80" rx="2.75" ry="2.60" fill="#0000ff"/>
<ellipse cx="958.47" cy="270.18" rx="2.75" ry="2.60" fill="#0000ff"/>
<ellipse cx="960.59" cy="270.58" rx="2.75" ry="2.60" fill="#0000ff"/>
<ellipse cx="962.71" cy="270.98" rx="2.75" ry="2.60" fill="#0000ff"/>
<ellipse cx="964.82" cy="271.40" rx="2.75" ry="2.60" fill="#0000ff"/>
<ellipse cx="966.94" cy="271.82" rx="2.75" ry="2.60" fill="#0000ff"/>
<ellipse cx="969.06" cy="272.26" rx="2.75" ry="2.60" fill="#0000ff"/>
<ellipse cx="971.18" cy="272.71" rx="2.75" ry="2.60" fill="#0000ff"/>
<ellipse cx="973.29" cy="273.17" rx="2.75" ry="2.60" fill="#0000ff"/>
<ellipse cx="975.41" cy="273.64" rx="2.75" ry="2.60" fill="#0000ff"/>
<ellipse cx="977.53" cy="274.12" rx="2.75" ry="2.60" fill="#0000ff"/>
<ellipse cx="979.64" cy="274.61" rx="2.75" ry="2.60" fill="#0000ff"/>
<ellipse cx="981.76" cy="275.10" rx="2.75" ry="2.60" fill="#0000ff"/>
<ellipse cx="983.88" cy="275.61" rx="2.75" ry="2.60" fill="#0000ff"/>
<ellipse cx="986.00" cy="276.12" rx="2.75" ry="2.60" fill="#0000ff"/>
<ellipse cx="988.12" cy="276.65" rx="2.75" ry="2.60" fill="#0000ff"/>
<ellipse cx="990.23" cy="277.18" rx="2.75" ry="2.60" fill="#0000ff"/>
<ellipse cx="992.35" cy="277.72" rx="2.75" ry="2.60" fill="#0000ff"/>
<ellipse cx="994.47" cy="278.27" rx="2.75" ry="2.60" fill="#0000ff"/>
<ellipse cx="996.59" cy="278.82" rx="2.75" ry="2.60" fill="#0000ff"/>
<ellipse cx="998.70" cy="279.38" rx="2.75" ry="2.60" fill="#0000ff"/>
<ellipse cx="1000.82" cy="279.95" rx="2.75" ry="2.60" fill="#0000ff"/>
<ellipse cx="1002.94" cy="280.53" rx="2.75" ry="2.60" fill="#0000ff"/>
<ellipse cx="1005.06" cy="281.11" rx="2.75" ry="2.60" fill="#0000ff"/>
<ellipse cx="1007.17" cy="281.70" rx="2.75" ry="2.60" fill="#0000ff"/>
<ellipse cx="1009.29" cy="282.29" rx="2.75" ry="2.60" fill="#0000ff"/>
<ellipse cx="1011.41" cy="282.89" rx="2.75" ry="2.60" fill="#0000ff"/>
<ellipse cx="1013.53" cy="283.50" rx="2.75" ry="2.60" fill="#0000ff"/>
<ellipse cx="1015.64" cy="284.11" rx="2.75" ry="2.60" fill="#0000ff"/>
<ellipse cx="1017.76" cy="284.73" rx="2.75" ry="2.60" fill="#0000ff"/>
<ellipse cx="1019.88" cy="285.35" rx="2.75" ry="2.60" fill="#0000ff"/>
<ellipse cx="1022.00" cy="285.98" rx="2.75" ry="2.60" fill="#0000ff"/>
<ellipse cx="1024.11" cy="286.62" rx="2.75" ry="2.60" fill="#0000ff"/>
<ellipse cx="1026.23" cy="287.26" rx="2.75" ry="2.60" fill="#0000ff"/>
<ellipse cx="1028.35" cy="287.90" rx="2.75" ry="2.60" fill="#0000ff"/>
<ellipse cx="1030.47" cy="288.55" rx="2.75" ry="2.60" fill="#0000ff"/>
<ellipse cx="1032.58" cy="289.20" rx="2.75" ry="2.60" fill="#0000ff"/>
<ellipse cx="1034.70" cy="289.85" rx="2.75" ry="2.60" fill="#0000ff"/>
<ellipse cx="1036.82" cy="290.51" rx="2.75" ry="2.60" fill="#0000ff"/>
<ellipse cx="1038.93" cy="291.17" rx="2.75" ry="2.60" fill="#0000ff"/>
<ellipse cx="1041.05" cy="291.83" rx="2.75" ry="2.60" fill="#0000ff"/>
<ellipse cx="1043.17" cy="292.50" rx="2.75" ry="2.60" fill="#0000ff"/>
<ellipse cx="1045.29" cy="293.16" rx="2.75" ry="2.60" fill="#0000ff"/>
<ellipse cx="1047.40" cy="293.83" rx="2.75" ry="2.60" fill="#0000ff"/>
<ellipse cx="1049.52" cy="294.50" rx="2.75" ry="2.60" fill="#0000ff"/>
<ellipse cx="1051.64" cy="295.17" rx="2.75" ry="2.60" fill="#0000ff"/>
<ellipse cx="1053.76" cy="295.85" rx="2.75" ry="2.60" fill="#0000ff"/>
<ellipse cx="1055.88" cy="296.52" rx="2.75" ry="2.60" fill="#0000ff"/>
<ellipse cx="1057.99" cy="297.19" rx="2.75" ry="2.60" fill="#0000ff"/>
<ellipse cx="1060.11" cy="297.87" rx="2.75" ry="2.60" fill="#0000ff"/>
<ellipse cx="1062.23" cy="298.54" rx="2.75" ry="2.60" fill="#0000ff"/>
<ellipse cx="1064.35" cy="299.22" rx="2.75" ry="2.60" fill="#0000ff"/>
<ellipse cx="1066.46" cy="299.89" rx="2.75" ry="2.60" fill="#0000ff"/>
<ellipse cx="1068.58" cy="300.57" rx="2.75" ry="2.60" fill="#0000ff"/>
<ellipse cx="1070.70" cy="301.24" rx="2.75" ry="2.60" fill="#0000ff"/>
<ellipse cx="1072.82" cy="301.92" rx="2.75" ry="2.60" fill="#0000ff"/>
<ellipse cx="1074.93" cy="302.59" rx="2.75" ry="2.60" fill="#0000ff"/>
<ellipse cx="1077.05" cy="303.26" rx="2.75" ry="2.60" fill="#0000ff"/>
<ellipse cx="1079.17" cy="303.93" rx="2.75" ry="2.60" fill="#0000ff"/>
<ellipse cx="1081.29" cy="304.60" rx="2.75" ry="2.60" fill="#0000ff"/>
<ellipse cx="1083.40" cy="305.26" rx="2.75" ry="2.60" fill="#0000ff"/>
<ellipse cx="1085.52" cy="305.93" rx="2.75" ry="2.60" fill="#0000ff"/>
<ellipse cx="1087.64" cy="306.59" rx="2.75" ry="2.60" fill="#0000ff"/>
<ellipse cx="1089.76" cy="307.25" rx="2.75" ry="2.60" fill="#0000ff"/>
<ellipse cx="1091.87" cy="307.91" rx="2.75" ry="2.60" fill="#0000ff"/>
<ellipse cx="1093.99" cy="308.56" rx="2.75" ry="2.60" fill="#0000ff"/>
<ellipse cx="1096.11" cy="309.21" rx="2.75" ry="2.60" fill="#0000ff"/>
<ellipse cx="1098.22" cy="309.86" rx="2.75" ry="2.60" fill="#0000ff"/>
<ellipse cx="1100.34" cy="310.51" rx="2.75" ry="2.60" fill="#0000ff"/>
<ellipse cx="1102.46" cy="311.16" rx="2.75" ry="2.60" fill="#0000ff"/>
<ellipse cx="1104.58" cy="311.80" rx="2.75" ry="2.60" fill="#0000ff"/>
<ellipse cx="1106.70" cy="312.43" rx="2.75" ry="2.60" fill="#0000ff"/>
<ellipse cx="1108.81" cy="313.07" rx="2.75" ry="2.60" fill="#0000ff"/>
<ellipse cx="1110.93" cy="313.70" rx="2.75" ry="2.60" fill="#0000ff"/>
<ellipse cx="1113.05" cy="314.32" rx="2.75" ry="2.60" fill="#0000ff"/>
<ellipse cx="1115.16" cy="314.95" rx="2.75" ry="2.60" fill="#0000ff"/>
<ellipse cx="1117.28" cy="315.57" rx="2.75" ry="2.60" fill="#0000ff"/>
<ellipse cx="1119.40" cy="316.18" rx="2.75" ry="2.60" fill="#0000ff"/>
<ellipse cx="1121.52" cy="316.79" rx="2.75" ry="2.60" fill="#0000ff"/>
<ellipse cx="1122.00" cy="316.93" rx="2.75" ry="2.60" fill="#0000ff"/>
<ellipse cx="700.13" cy="318.09" rx="2.75" ry="2.60" fill="#ff0000"/>
<ellipse cx="702.25" cy="317.05" rx="2.75" ry="2.60" fill="#ff0000"/>
<ellipse cx="704.37" cy="316.02" rx="2.75" ry="2.60" fill="#ff0000"/>
<ellipse cx="706.49" cy="314.98" rx="2.75" ry="2.60" fill="#ff0000"/>
<ellipse cx="708.61" cy="313.93" rx="2.75" ry="2.60" fill="#ff0000"/>
<ellipse cx="710.72" cy="312.88" rx="2.75" ry="2.60" fill="#ff0000"/>
<ellipse cx="712.84" cy="311.83" rx="2.75" ry="2.60" fill="#ff0000"/>
<ellipse cx="714.96" cy="310.77" rx="2.75" ry="2.60" fill="#ff0000"/>
<ellipse cx="717.08" cy="309.70" rx="2.75" ry="2.60" fill="#ff0000"/>
<ellipse cx="719.19" cy="308.63" rx="2.75" ry="2.60" fill="#ff0000"/>
<ellipse cx="721.31" cy="307.55" rx="2.75" ry="2.60" fill="#ff0000"/>
<ellipse cx="723.43" cy="306.46" rx="2.75" ry="2.60" fill="#ff0000"/>
<ellipse cx="725.55" cy="305.36" rx="2.75" ry="2.60" fill="#ff0000"/>
<ellipse cx="727.66" cy="304.25" rx="2.75" ry="2.60" fill="#ff0000"/>
<ellipse cx="729.78" cy="303.14" rx="2.75" ry="2.60" fill="#ff0000"/>
<ellipse cx="731.90" cy="302.01" rx="2.75" ry="2.60" fill="#ff0000"/>
<ellipse cx="734.01" cy="300.87" rx="2.75" ry="2.60" fill="#ff0000"/>
<ellipse cx="736.13" cy="299.72" rx="2.75" ry="2.60" fill="#ff0000"/>
<ellipse cx="738.25" cy="298.56" rx="2.75" ry="2.60" fill="#ff0000"/>
<ellipse cx="740.37" cy="297.37" rx="2.75" ry="2.60" fill="#ff0000"/>
<ellipse cx="742.49" cy="296.18" rx="2.75" ry="2.60" fill="#ff0000"/>
<ellipse cx="744.60" cy="294.96" rx="2.75" ry="2.60" fill="#ff0000"/>
<ellipse cx="746.72" cy="293.72" rx="2.75" ry="2.60" fill="#ff0000"/>
<ellipse cx="748.84" cy="292.46" rx="2.75" ry="2.60" fill="#ff0000"/>
<ellipse cx="750.96" cy="291.17" rx="2.75" ry="2.60" fill="#ff0000"/>
<ellipse cx="753.07" cy="289.85" rx="2.75" ry="2.60" fill="#ff0000"/>
<ellipse cx="755.19" cy="288.50" rx="2.75" ry="2.60" fill="#ff0000"/>
<ellipse cx="757.31" cy="287.11" rx="2.75" ry="2.60" fill="#ff0000"/>
<ellipse cx="759.43" cy="285.67" rx="2.75" ry="2.60" fill="#ff0000"/>
<ellipse cx="761.54" cy="284.18" rx="2.75" ry="2.60" fill="#ff0000"/>
<ellipse cx="763.66" cy="282.63" rx="2.75" ry="2.60" fill="#ff0000"/>
<ellipse cx="765.78" cy="281.01" rx="2.75" ry="2.60" fill="#ff0000"/>
<ellipse cx="767.89" cy="279.28" rx="2.75" ry="2.60" fill="#ff0000"/>
<ellipse cx="770.01" cy="277.44" rx="2.75" ry="2.60" fill="#ff0000"/>
<ellipse cx="772.13" cy="275.45" rx="2.75" ry="2.60" fill="#ff0000"/>
<ellipse cx="774.25" cy="273.23" rx="2.75" ry="2.60" fill="#ff0000"/>
<ellipse cx="776.37" cy="270.67" rx="2.75" ry="2.60" fill="#ff0000"/>
<ellipse cx="778.48" cy="267.50" rx="2.75" ry="2.60" fill="#ff0000"/>
<ellipse cx="780.60" cy="262.53" rx="2.75" ry="2.60" fill="#ff0000"/>
<ellipse cx="698.50" cy="318.88" rx="2.75" ry="2.60" fill="#ff0000"/>
<ellipse cx="780.60" cy="254.90" rx="2.75" ry="2.60" fill="#ff0000"/>
<ellipse cx="782.72" cy="253.51" rx="2.75" ry="2.60" fill="#ff0000"/>
<ellipse cx="784.84" cy="252.70" rx="2.75" ry="2.60" fill="#ff0000"/>
<ellipse cx="786.95" cy="252.09" rx="2.75" ry="2.60" fill="#ff0000"/>
<ellipse cx="789.07" cy="251.57" rx="2.75" ry="2.60" fill="#ff0000"/>
<ellipse cx="791.19" cy="251.12" rx="2.75" ry="2.60" fill="#ff0000"/>
<ellipse cx="793.31" cy="250.72" rx="2.75" ry="2.60" fill="#ff0000"/>
<ellipse cx="795.42" cy="250.34" rx="2.75" ry="2.60" fill="#ff0000"/>
<ellipse cx="797.54" cy="249.99" rx="2.75" ry="2.60" fill="#ff0000"/>
<ellipse cx="799.66" cy="249.65" rx="2.75" ry="2.60" fill="#ff0000"/>
<ellipse cx="801.77" cy="249.33" rx="2.75" ry="2.60" fill="#ff0000"/>
<ellipse cx="803.89" cy="249.02" rx="2.75" ry="2.60" fill="#ff0000"/>
<ellipse cx="806.01" cy="248.72" rx="2.75" ry="2.60" fill="#ff0000"/>
<ellipse cx="808.13" cy="248.43" rx="2.75" ry="2.60" fill="#ff0000"/>
<ellipse cx="810.25" cy="248.14" rx="2.75" ry="2.60" fill="#ff0000"/>
<ellipse cx="812.36" cy="247.85" rx="2.75" ry="2.60" fill="#ff0000"/>
<ellipse cx="814.48" cy="247.57" rx="2.75" ry="2.60" fill="#ff0000"/>
<ellipse cx="816.60" cy="247.29" rx="2.75" ry="2.60" fill="#ff0000"/>
<ellipse cx="818.72" cy="247.01" rx="2.75" ry="2.60" fill="#ff0000"/>
<ellipse cx="820.83" cy="246.73" rx="2.75" ry="2.60" fill="#ff0000"/>
<ellipse cx="822.95" cy="246.45" rx="2.75" ry="2.60" fill="#ff0000"/>
<ellipse cx="825.07" cy="246.18" rx="2.75" ry="2.60" fill="#ff0000"/>
<ellipse cx="827.19" cy="245.90" rx="2.75" ry="2.60" fill="#ff0000"/>
<ellipse cx="829.30" cy="245.62" rx="2.75" ry="2.60" fill="#ff0000"/>
<ellipse cx="831.42" cy="245.35" rx="2.75" ry="2.60" fill="#ff0000"/>
<ellipse cx="833.54" cy="245.07" rx="2.75" ry="2.60" fill="#ff0000"/>
<ellipse cx="835.65" cy="244.79" rx="2.75" ry="2.60" fill="#ff0000"/>
<ellipse cx="837.77" cy="244.51" rx="2.75" ry="2.60" fill="#ff0000"/>
<ellipse cx="839.89" cy="244.22" rx="2.75" ry="2.60" fill="#ff0000"/>
<ellipse cx="842.01" cy="243.94" rx="2.75" ry="2.60" fill="#ff0000"/>
<ellipse cx="844.12" cy="243.65" rx="2.75" ry="2.60" fill="#ff0000"/>
<ellipse cx="846.24" cy="243.37" rx="2.75" ry="2.60" fill="#ff0000"/>
<ellipse cx="848.36" cy="243.08" rx="2.75" ry="2.60" fill="#ff0000"/>
<ellipse cx="850.48" cy="242.78" rx="2.75" ry="2.60" fill="#ff0000"/>
<ellipse cx="852.60" cy="242.49" rx="2.75" ry="2.60" fill="#ff0000"/>
<ellipse cx="854.71" cy="242.19" rx="2.75" ry="2.60" fill="#ff0000"/>
<ellipse cx="856.83" cy="241.90" rx="2.75" ry="2.60" fill="#ff0000"/>
<ellipse cx="858.95" cy="241.59" rx="2.75" ry="2.60" fill="#ff0000"/>
<ellipse cx="861.07" cy="241.29" rx="2.75" ry="2.60" fill="#ff0000"/>
<ellipse cx="863.18" cy="240.99" rx="2.75" ry="2.60" fill="#ff0000"/>
<ellipse cx="865.30" cy="240.68" rx="2.75" ry="2.60" fill="#ff0000"/>
<ellipse cx="867.42" cy="240.37" rx="2.75" ry="2.60" fill="#ff0000"/>
<ellipse cx="869.54" cy="240.05" rx="2.75" ry="2.60" fill="#ff0000"/>
<ellipse cx="871.65" cy="239.74" rx="2.75" ry="2.60" fill="#ff0000"/>
<ellipse cx="873.77" cy="239.42" rx="2.75" ry="2.60" fill="#ff0000"/>
<ellipse cx="875.89" cy="239.10" rx="2.75" ry="2.60" fill="#ff0000"/>
<ellipse cx="878.00" cy="238.78" rx="2.75" ry="2.60" fill="#ff0000"/>
<ellipse cx="880.12" cy="238.45" rx="2.75" ry="2.60" fill="#ff0000"/>
<ellipse cx="882.24" cy="238.12" rx="2.75" ry="2.60" fill="#ff0000"/>
<ellipse cx="884.36" cy="237.79" rx="2.75" ry="2.60" fill="#ff0000"/>
<ellipse cx="886.48" cy="237.45" rx="2.75" ry="2.60" fill="#ff0000"/>
<ellipse cx="888.59" cy="237.11" rx="2.75" ry="2.60" fill="#ff0000"/>
<ellipse cx="890.71" cy="236.76" rx="2.75" ry="2.60" fill="#ff0000"/>
<ellipse cx="892.83" cy="236.41" rx="2.75" ry="2.60" fill="#ff0000"/>
<ellipse cx="894.95" cy="236.05" rx="2.75" ry="2.60" fill="#ff0000"/>
<ellipse cx="897.06" cy="235.69" rx="2.75" ry="2.60" fill="#ff0000"/>
<ellipse cx="899.18" cy="235.31" rx="2.75" ry="2.60" fill="#ff0000"/>
<ellipse cx="901.30" cy="234.93" rx="2.75" ry="2.60" fill="#ff0000"/>
<ellipse cx="903.42" cy="234.54" rx="2.75" ry="2.60" fill="#ff0000"/>
<ellipse cx="905.53" cy="234.15" rx="2.75" ry="2.60" fill="#ff0000"/>
<ellipse cx="907.65" cy="233.74" rx="2.75" ry="2.60" fill="#ff0000"/>
<ellipse cx="909.77" cy="233.33" rx="2.75" ry="2.60" fill="#ff0000"/>
<ellipse cx="911.88" cy="232.90" rx="2.75" ry="2.60" fill="#ff0000"/>
<ellipse cx="914.00" cy="232.47" rx="2.75" ry="2.60" fill="#ff0000"/>
<ellipse cx="916.12" cy="232.02" rx="2.75" ry="2.60" fill="#ff0000"/>
<ellipse cx="918.24" cy="231.56" rx="2.75" ry="2.60" fill="#ff0000"/>
<ellipse cx="920.36" cy="231.10" rx="2.75" ry="2.60" fill="#ff0000"/>
<ellipse cx="922.47" cy="230.62" rx="2.75" ry="2.60" fill="#ff0000"/>
<ellipse cx="924.59" cy="230.13" rx="2.75" ry="2.60" fill="#ff0000"/>
<ellipse cx="926.71" cy="229.63" rx="2.75" ry="2.60" fill="#ff0000"/>
<ellipse cx="928.83" cy="229.12" rx="2.75" ry="2.60" fill="#ff0000"/>
<ellipse cx="930.94" cy="228.59" rx="2.75" ry="2.60" fill="#ff0000"/>
<ellipse cx="933.06" cy="228.06" rx="2.75" ry="2.60" fill="#ff0000"/>
<ellipse cx="935.18" cy="227.51" rx="2.75" ry="2.60" fill="#ff0000"/>
<ellipse cx="937.30" cy="226.95" rx="2.75" ry="2.60" fill="#ff0000"/>
<ellipse cx="939.41" cy="226.38" rx="2.75" ry="2.60" fill="#ff0000"/>
<ellipse cx="941.53" cy="225.79" rx="2.75" ry="2.60" fill="#ff0000"/>
<ellipse cx="943.65" cy="225.19" rx="2.75" ry="2.60" fill="#ff0000"/>
<ellipse cx="945.77" cy="224.58" rx="2.75" ry="2.60" fill="#ff0000"/>
<ellipse cx="947.88" cy="223.96" rx="2.75" ry="2.60" fill="#ff0000"/>
<ellipse cx="950.00" cy="223.32" rx="2.75" ry="2.60" fill="#ff0000"/>
<ellipse cx="952.12" cy="222.67" rx="2.75" ry="2.60" fill="#ff0000"/>
<ellipse cx="954.24" cy="222.00" rx="2.75" ry="2.60" fill="#ff0000"/>
<ellipse cx="956.35" cy="221.32" rx="2.75" ry="2.60" fill="#ff0000"/>
<ellipse cx="958.47" cy="220.63" rx="2.75" ry="2.60" fill="#ff0000"/>
<ellipse cx="960.59" cy="219.93" rx="2.75" ry="2.60" fill="#ff0000"/>
<ellipse cx="962.71" cy="219.22" rx="2.75" ry="2.60" fill="#ff0000"/>
<ellipse cx="964.82" cy="218.50" rx="2.75" ry="2.60" fill="#ff0000"/>
<ellipse cx="966.94" cy="217.77" rx="2.75" ry="2.60" fill="#ff0000"/>
<ellipse cx="969.06" cy="217.02" rx="2.75" ry="2.60" fill="#ff0000"/>
<ellipse cx="971.18" cy="216.27" rx="2.75" ry="2.60" fill="#ff0000"/>
<ellipse cx="973.29" cy="215.51" rx="2.75" ry="2.60" fill="#ff0000"/>
<ellipse cx="975.41" cy="214.74" rx="2.75" ry="2.60" fill="#ff0000"/>
<ellipse cx="977.53" cy="213.96" rx="2.75" ry="2.60" fill="#ff0000"/>
<ellipse cx="979.64" cy="213.17" rx="2.75" ry="2.60" fill="#ff0000"/>
<ellipse cx="981.76" cy="212.37" rx="2.75" ry="2.60" fill="#ff0000"/>
<ellipse cx="983.88" cy="211.57" rx="2.75" ry="2.60" fill="#ff0000"/>
<ellipse cx="986.00" cy="210.76" rx="2.75" ry="2.60" fill="#ff0000"/>
<ellipse cx="988.12" cy="209.94" rx="2.75" ry="2.60" fill="#ff0000"/>
<ellipse cx="990.23" cy="209.11" rx="2.75" ry="2.60" fill="#ff0000"/>
<ellipse cx="992.35" cy="208.28" rx="2.75" ry="2.60" fill="#ff0000"/>
<ellipse cx="994.47" cy="207.44" rx="2.75" ry="2.60" fill="#ff0000"/>
<ellipse cx="996.59" cy="206.60" rx="2.75" ry="2.60" fill="#ff0000"/>
<ellipse cx="998.70" cy="205.75" rx="2.75" ry="2.60" fill="#ff0000"/>
<ellipse cx="1000.82" cy="204.89" rx="2.75" ry="2.60" fill="#ff0000"/>
<ellipse cx="1002.94" cy="204.03" rx="2.75" ry="2.60" fill="#ff0000"/>
<ellipse cx="1005.06" cy="203.16" rx="2.75" ry="2.60" fill="#ff0000"/>
<ellipse cx="1007.17" cy="202.29" rx="2.75" ry="2.60" fill="#ff0000"/>
<ellipse cx="1009.29" cy="201.42" rx="2.75" ry="2.60" fill="#ff0000"/>
<ellipse cx="1011.41" cy="200.54" rx="2.75" ry="2.60" fill="#ff0000"/>
<ellipse cx="1013.53" cy="199.66" rx="2.75" ry="2.60" fill="#ff0000"/>
<ellipse cx="1015.64" cy="198.77" rx="2.75" ry="2.60" fill="#ff0000"/>
<ellipse cx="1017.76" cy="197.88" rx="2.75" ry="2.60" fill="#ff0000"/>
<ellipse cx="1019.88" cy="196.99" rx="2.75" ry="2.60" fill="#ff0000"/>
<ellipse cx="1022.00" cy="196.10" rx="2.75" ry="2.60" fill="#ff0000"/>
<ellipse cx="1024.11" cy="195.20" rx="2.75" ry="2.60" fill="#ff0000"/>
<ellipse cx="1026.23" cy="194.30" rx="2.75" ry="2.60" fill="#ff0000"/>
<ellipse cx="1028.35" cy="193.40" rx="2.75" ry="2.60" fill="#ff0000"/>
<ellipse cx="1030.47" cy="192.50" rx="2.75" ry="2.60" fill="#ff0000"/>
<ellipse cx="1032.58" cy="191.60" rx="2.75" ry="2.60" fill="#ff0000"/>
<ellipse cx="1034.70" cy="190.69" rx="2.75" ry="2.60" fill="#ff0000"/>
<ellipse cx="1036.82" cy="189.79" rx="2.75" ry="2.60" fill="#ff0000"/>
<ellipse cx="1038.93" cy="188.88" rx="2.75" ry="2.60" fill="#ff0000"/>
<ellipse cx="1041.05" cy="187.98" rx="2.75" ry="2.60" fill="#ff0000"/>
<ellipse cx="1043.17" cy="187.08" rx="2.75" ry="2.60" fill="#ff0000"/>
<ellipse cx="1045.29" cy="186.17" rx="2.75" ry="2.60" fill="#ff0000"/>
<ellipse cx="1047.40" cy="185.27" rx="2.75" ry="2.60" fill="#ff0000"/>
<ellipse cx="1049.52" cy="184.36" rx="2.75" ry="2.60" fill="#ff0000"/>
<ellipse cx="1051.64" cy="183.46" rx="2.75" ry="2.60" fill="#ff0000"/>
<ellipse cx="1053.76" cy="182.56" rx="2.75" ry="2.60" fill="#ff0000"/>
<ellipse cx="1055.88" cy="181.66" rx="2.75" ry="2.60" fill="#ff0000"/>
<ellipse cx="1057.99" cy="180.76" rx="2.75" ry="2.60" fill="#ff0000"/>
<ellipse cx="1060.11" cy="179.86" rx="2.75" ry="2.60" fill="#ff0000"/>
<ellipse cx="1062.23" cy="178.96" rx="2.75" ry="2.60" fill="#ff0000"/>
<ellipse cx="1064.35" cy="178.07" rx="2.75" ry="2.60" fill="#ff0000"/>
<ellipse cx="1066.46" cy="177.18" rx="2.75" ry="2.60" fill="#ff0000"/>
<ellipse cx="1068.58" cy="176.29" rx="2.75" ry="2.60" fill="#ff0000"/>
<ellipse cx="1070.70" cy="175.40" rx="2.75" ry="2.60" fill="#ff0000"/>
<ellipse cx="1072.82" cy="174.52" rx="2.75" ry="2.60" fill="#ff0000"/>
<ellipse cx="1074.93" cy="173.64" rx="2.75" ry="2.60" fill="#ff0000"/>
<ellipse cx="1077.05" cy="172.76" rx="2.75" ry="2.60" fill="#ff0000"/>
<ellipse cx="1079.17" cy="171.88" rx="2.75" ry="2.60" fill="#ff0000"/>
<ellipse cx="1081.29" cy="171.01" rx="2.75" ry="2.60" fill="#ff0000"/>
<ellipse cx="1083.40" cy="170.14" rx="2.75" ry="2.60" fill="#ff0000"/>
<ellipse cx="1085.52" cy="169.27" rx="2.75" ry="2.60" fill="#ff0000"/>
<ellipse cx="1087.64" cy="168.41" rx="2.75" ry="2.60" fill="#ff0000"/>
<ellipse cx="1089.76" cy="167.55" rx="2.75" ry="2.60" fill="#ff0000"/>
<ellipse cx="1091.87" cy="166.69" rx="2.75" ry="2.60" fill="#ff0000"/>
<ellipse cx="1093.99" cy="165.84" rx="2.75" ry="2.60" fill="#ff0000"/>
<ellipse cx="1096.11" cy="165.00" rx="2.75" ry="2.60" fill="#ff0000"/>
<ellipse cx="1098.22" cy="164.15" rx="2.75" ry="2.60" fill="#ff0000"/>
<ellipse cx="1100.34" cy="163.31" rx="2.75" ry="2.60" fill="#ff0000"/>
<ellipse cx="1102.46" cy="162.48" rx="2.75" ry="2.60" fill="#ff0000"/>
<ellipse cx="1104.58" cy="161.65" rx="2.75" ry="2.60" fill="#ff0000"/>
<ellipse cx="1106.70" cy="160.83" rx="2.75" ry="2.60" fill="#ff0000"/>
<ellipse cx="1108.81" cy="160.01" rx="2.75" ry="2.60" fill="#ff0000"/>
<ellipse cx="1110.93" cy="159.19" rx="2.75" ry="2.60" fill="#ff0000"/>
<ellipse cx="1113.05" cy="158.38" rx="2.75" ry="2.60" fill="#ff0000"/>
<ellipse cx="1115.16" cy="157.57" rx="2.75" ry="2.60" fill="#ff0000"/>
<ellipse cx="1117.28" cy="156.77" rx="2.75" ry="2.60" fill="#ff0000"/>
<ellipse cx="1119.40" cy="155.98" rx="2.75" ry="2.60" fill="#ff0000"/>
<ellipse cx="1121.52" cy="155.19" rx="2.75" ry="2.60" fill="#ff0000"/>
<ellipse cx="1122.00" cy="155.01" rx="2.75" ry="2.60" fill="#ff0000"/>
<ellipse cx="700.70" cy="649.89" rx="2.75" ry="2.60" fill="#0000ff"/>
<ellipse cx="702.82" cy="651.24" rx="2.75" ry="2.60" fill="#0000ff"/>
<ellipse cx="704.93" cy="652.59" rx="2.75" ry="2.60" fill="#0000ff"/>
<ellipse cx="707.05" cy="653.94" rx="2.75" ry="2.60" fill="#0000ff"/>
<ellipse cx="709.17" cy="655.28" rx="2.75" ry="2.60" fill="#0000ff"/>
<ellipse cx="711.29" cy="656.63" rx="2.75" ry="2.60" fill="#0000ff"/>
<ellipse cx="713.41" cy="657.99" rx="2.75" ry="2.60" fill="#0000ff"/>
<ellipse cx="715.53" cy="659.34" rx="2.75" ry="2.60" fill="#0000ff"/>
<ellipse cx="717.65" cy="660.70" rx="2.75" ry="2.60" fill="#0000ff"/>
<ellipse cx="719.76" cy="662.07" rx="2.75" ry="2.60" fill="#0000ff"/>
<ellipse cx="721.88" cy="663.45" rx="2.75" ry="2.60" fill="#0000ff"/>
<ellipse cx="724.00" cy="664.83" rx="2.75" ry="2.60" fill="#0000ff"/>
<ellipse cx="726.12" cy="666.22" rx="2.75" ry="2.60" fill="#0000ff"/>
<ellipse cx="728.24" cy="667.62" rx="2.75" ry="2.60" fill="#0000ff"/>
<ellipse cx="730.36" cy="669.04" rx="2.75" ry="2.60" fill="#0000ff"/>
<ellipse cx="732.47" cy="670.46" rx="2.75" ry="2.60" fill="#0000ff"/>
<ellipse cx="734.59" cy="671.90" rx="2.75" ry="2.60" fill="#0000ff"/>
<ellipse cx="736.71" cy="673.36" rx="2.75" ry="2.60" fill="#0000ff"/>
<ellipse cx="738.83" cy="674.83" rx="2.75" ry="2.60" fill="#0000ff"/>
<ellipse cx="740.95" cy="676.32" rx="2.75" ry="2.60" fill="#0000ff"/>
<ellipse cx="743.07" cy="677.82" rx="2.75" ry="2.60" fill="#0000ff"/>
<ellipse cx="745.19" cy="679.35" rx="2.75" ry="2.60" fill="#0000ff"/>
<ellipse cx="747.30" cy="680.89" rx="2.75" ry="2.60" fill="#0000ff"/>
<ellipse cx="749.42" cy="682.46" rx="2.75" ry="2.60" fill="#0000ff"/>
<ellipse cx="751.54" cy="684.05" rx="2.75" ry="2.60" fill="#0000ff"/>
<ellipse cx="753.66" cy="685.67" rx="2.75" ry="2.60" fill="#0000ff"/>
<ellipse cx="755.78" cy="687.31" rx="2.75" ry="2.60" fill="#0000ff"/>
<ellipse cx="757.90" cy="688.97" rx="2.75" ry="2.60" fill="#0000ff"/>
<ellipse cx="760.02" cy="690.67" rx="2.75" ry="2.60" fill="#0000ff"/>
<ellipse cx="762.13" cy="692.39" rx="2.75" ry="2.60" fill="#0000ff"/>
<ellipse cx="764.25" cy="694.14" rx="2.75" ry="2.60" fill="#0000ff"/>
<ellipse cx="766.37" cy="695.92" rx="2.75" ry="2.60" fill="#0000ff"/>
<ellipse cx="768.49" cy="697.73" rx="2.75" ry="2.60" fill="#0000ff"/>
<ellipse cx="770.61" cy="699.58" rx="2.75" ry="2.60" fill="#0000ff"/>
<ellipse cx="772.73" cy="701.46" rx="2.75" ry="2.60" fill="#0000ff"/>
<ellipse cx="774.84" cy="703.37" rx="2.75" ry="2.60" fill="#0000ff"/>
<ellipse cx="776.96" cy="705.33" rx="2.75" ry="2.60" fill="#0000ff"/>
<ellipse cx="779.08" cy="707.32" rx="2.75" ry="2.60" fill="#0000ff"/>
<ellipse cx="699.10" cy="648.87" rx="2.75" ry="2.60" fill="#0000ff"/>
<ellipse cx="781.20" cy="668.60" rx="2.75" ry="2.60" fill="#0000ff"/>
<ellipse cx="783.32" cy="652.79" rx="2.75" ry="2.60" fill="#0000ff"/>
<ellipse cx="785.44" cy="641.63" rx="2.75" ry="2.60" fill="#0000ff"/>
<ellipse cx="787.56" cy="632.58" rx="2.75" ry="2.60" fill="#0000ff"/>
<ellipse cx="789.67" cy="624.49" rx="2.75" ry="2.60" fill="#0000ff"/>
<ellipse cx="791.79" cy="617.32" rx="2.75" ry="2.60" fill="#0000ff"/>
<ellipse cx="793.91" cy="610.97" rx="2.75" ry="2.60" fill="#0000ff"/>
<ellipse cx="796.03" cy="605.22" rx="2.75" ry="2.60" fill="#0000ff"/>
<ellipse cx="798.15" cy="599.68" rx="2.75" ry="2.60" fill="#0000ff"/>
<ellipse cx="800.27" cy="594.97" rx="2.75" ry="2.60" fill="#0000ff"/>
<ellipse cx="802.38" cy="590.53" rx="2.75" ry="2.60" fill="#0000ff"/>
<ellipse cx="804.50" cy="586.59" rx="2.75" ry="2.60" fill="#0000ff"/>
<ellipse cx="806.62" cy="582.55" rx="2.75" ry="2.60" fill="#0000ff"/>
<ellipse cx="808.74" cy="577.96" rx="2.75" ry="2.60" fill="#0000ff"/>
<ellipse cx="810.86" cy="574.17" rx="2.75" ry="2.60" fill="#0000ff"/>
<ellipse cx="812.98" cy="571.53" rx="2.75" ry="2.60" fill="#0000ff"/>
<ellipse cx="815.10" cy="568.38" rx="2.75" ry="2.60" fill="#0000ff"/>
<ellipse cx="817.21" cy="565.41" rx="2.75" ry="2.60" fill="#0000ff"/>
<ellipse cx="819.33" cy="562.63" rx="2.75" ry="2.60" fill="#0000ff"/>
<ellipse cx="821.45" cy="560.01" rx="2.75" ry="2.60" fill="#0000ff"/>
<ellipse cx="823.57" cy="557.56" rx="2.75" ry="2.60" fill="#0000ff"/>
<ellipse cx="825.69" cy="555.26" rx="2.75" ry="2.60" fill="#0000ff"/>
<ellipse cx="827.81" cy="553.10" rx="2.75" ry="2.60" fill="#0000ff"/>
<ellipse cx="829.93" cy="551.08" rx="2.75" ry="2.60" fill="#0000ff"/>
<ellipse cx="832.04" cy="549.19" rx="2.75" ry="2.60" fill="#0000ff"/>
<ellipse cx="834.16" cy="547.41" rx="2.75" ry="2.60" fill="#0000ff"/>
<ellipse cx="836.28" cy="545.74" rx="2.75" ry="2.60" fill="#0000ff"/>
<ellipse cx="838.40" cy="544.17" rx="2.75" ry="2.60" fill="#0000ff"/>
<ellipse cx="840.52" cy="542.68" rx="2.75" ry="2.60" fill="#0000ff"/>
<ellipse cx="842.64" cy="541.28" rx="2.75" ry="2.60" fill="#0000ff"/>
<ellipse cx="844.75" cy="539.95" rx="2.75" ry="2.60" fill="#0000ff"/>
<ellipse cx="846.87" cy="538.71" rx="2.75" ry="2.60" fill="#0000ff"/>
<ellipse cx="848.99" cy="537.54" rx="2.75" ry="2.60" fill="#0000ff"/>
<ellipse cx="851.11" cy="536.45" rx="2.75" ry="2.60" fill="#0000ff"/>
<ellipse cx="853.23" cy="535.44" rx="2.75" ry="2.60" fill="#0000ff"/>
<ellipse cx="855.35" cy="534.51" rx="2.75" ry="2.60" fill="#0000ff"/>
<ellipse cx="857.47" cy="533.66" rx="2.75" ry="2.60" fill="#0000ff"/>
<ellipse cx="859.58" cy="532.88" rx="2.75" ry="2.60" fill="#0000ff"/>
<ellipse cx="861.70" cy="532.18" rx="2.75" ry="2.60" fill="#0000ff"/>
<ellipse cx="863.82" cy="531.56" rx="2.75" ry="2.60" fill="#0000ff"/>
<ellipse cx="865.94" cy="531.02" rx="2.75" ry="2.60" fill="#0000ff"/>
<ellipse cx="868.06" cy="530.55" rx="2.75" ry="2.60" fill="#0000ff"/>
<ellipse cx="870.18" cy="530.16" rx="2.75" ry="2.60" fill="#0000ff"/>
<ellipse cx="872.30" cy="529.85" rx="2.75" ry="2.60" fill="#0000ff"/>
<ellipse cx="874.41" cy="529.62" rx="2.75" ry="2.60" fill="#0000ff"/>
<ellipse cx="876.53" cy="529.46" rx="2.75" ry="2.60" fill="#0000ff"/>
<ellipse cx="878.65" cy="529.38" rx="2.75" ry="2.60" fill="#0000ff"/>
<ellipse cx="880.77" cy="529.37" rx="2.75" ry="2.60" fill="#0000ff"/>
<ellipse cx="882.89" cy="529.44" rx="2.75" ry="2.60" fill="#0000ff"/>
<ellipse cx="885.01" cy="529.59" rx="2.75" ry="2.60" fill="#0000ff"/>
<ellipse cx="887.12" cy="529.81" rx="2.75" ry="2.60" fill="#0000ff"/>
<ellipse cx="889.24" cy="530.11" rx="2.75" ry="2.60" fill="#0000ff"/>
<ellipse cx="891.36" cy="530.49" rx="2.75" ry="2.60" fill="#0000ff"/>
<ellipse cx="893.48" cy="530.94" rx="2.75" ry="2.60" fill="#0000ff"/>
<ellipse cx="895.60" cy="531.46" rx="2.75" ry="2.60" fill="#0000ff"/>
<ellipse cx="897.72" cy="532.06" rx="2.75" ry="2.60" fill="#0000ff"/>
<ellipse cx="899.84" cy="532.74" rx="2.75" ry="2.60" fill="#0000ff"/>
<ellipse cx="901.95" cy="533.49" rx="2.75" ry="2.60" fill="#0000ff"/>
<ellipse cx="904.07" cy="534.32" rx="2.75" ry="2.60" fill="#0000ff"/>
<ellipse cx="906.19" cy="535.21" rx="2.75" ry="2.60" fill="#0000ff"/>
<ellipse cx="908.31" cy="536.18" rx="2.75" ry="2.60" fill="#0000ff"/>
<ellipse cx="910.43" cy="537.22" rx="2.75" ry="2.60" fill="#0000ff"/>
<ellipse cx="912.55" cy="538.33" rx="2.75" ry="2.60" fill="#0000ff"/>
<ellipse cx="914.67" cy="539.51" rx="2.75" ry="2.60" fill="#0000ff"/>
<ellipse cx="916.78" cy="540.75" rx="2.75" ry="2.60" fill="#0000ff"/>
<ellipse cx="918.90" cy="542.06" rx="2.75" ry="2.60" fill="#0000ff"/>
<ellipse cx="921.02" cy="543.44" rx="2.75" ry="2.60" fill="#0000ff"/>
<ellipse cx="923.14" cy="544.87" rx="2.75" ry="2.60" fill="#0000ff"/>
<ellipse cx="925.26" cy="546.37" rx="2.75" ry="2.60" fill="#0000ff"/>
<ellipse cx="927.38" cy="547.92" rx="2.75" ry="2.60" fill="#0000ff"/>
<ellipse cx="929.50" cy="549.54" rx="2.75" ry="2.60" fill="#0000ff"/>
<ellipse cx="931.61" cy="551.21" rx="2.75" ry="2.60" fill="#0000ff"/>
<ellipse cx="933.73" cy="552.94" rx="2.75" ry="2.60" fill="#0000ff"/>
<ellipse cx="935.85" cy="554.72" rx="2.75" ry="2.60" fill="#0000ff"/>
<ellipse cx="937.97" cy="556.55" rx="2.75" ry="2.60" fill="#0000ff"/>
<ellipse cx="940.09" cy="558.44" rx="2.75" ry="2.60" fill="#0000ff"/>
<ellipse cx="942.21" cy="560.38" rx="2.75" ry="2.60" fill="#0000ff"/>
<ellipse cx="944.32" cy="562.37" rx="2.75" ry="2.60" fill="#0000ff"/>
<ellipse cx="946.44" cy="564.40" rx="2.75" ry="2.60" fill="#0000ff"/>
<ellipse cx="948.56" cy="566.48" rx="2.75" ry="2.60" fill="#0000ff"/>
<ellipse cx="950.68" cy="568.61" rx="2.75" ry="2.60" fill="#0000ff"/>
<ellipse cx="952.80" cy="570.78" rx="2.75" ry="2.60" fill="#0000ff"/>
<ellipse cx="954.92" cy="572.99" rx="2.75" ry="2.60" fill="#0000ff"/>
<ellipse cx="957.04" cy="575.24" rx="2.75" ry="2.60" fill="#0000ff"/>
<ellipse cx="959.15" cy="577.54" rx="2.75" ry="2.60" fill="#0000ff"/>
<ellipse cx="961.27" cy="579.87" rx="2.75" ry="2.60" fill="#0000ff"/>
<ellipse cx="963.39" cy="582.24" rx="2.75" ry="2.60" fill="#0000ff"/>
<ellipse cx="965.51" cy="584.64" rx="2.75" ry="2.60" fill="#0000ff"/>
<ellipse cx="967.63" cy="587.08" rx="2.75" ry="2.60" fill="#0000ff"/>
<ellipse cx="969.75" cy="589.55" rx="2.75" ry="2.60" fill="#0000ff"/>
<ellipse cx="971.87" cy="592.04" rx="2.75" ry="2.60" fill="#0000ff"/>
<ellipse cx="973.98" cy="594.55" rx="2.75" ry="2.60" fill="#0000ff"/>
<ellipse cx="976.10" cy="597.07" rx="2.75" ry="2.60" fill="#0000ff"/>
<ellipse cx="978.22" cy="599.59" rx="2.75" ry="2.60" fill="#0000ff"/>
<ellipse cx="980.34" cy="602.10" rx="2.75" ry="2.60" fill="#0000ff"/>
<ellipse cx="982.46" cy="604.61" rx="2.75" ry="2.60" fill="#0000ff"/>
<ellipse cx="984.58" cy="607.09" rx="2.75" ry="2.60" fill="#0000ff"/>
<ellipse cx="986.69" cy="609.55" rx="2.75" ry="2.60" fill="#0000ff"/>
<ellipse cx="988.81" cy="611.97" rx="2.75" ry="2.60" fill="#0000ff"/>
<ellipse cx="990.93" cy="614.36" rx="2.75" ry="2.60" fill="#0000ff"/>
<ellipse cx="993.05" cy="616.70" rx="2.75" ry="2.60" fill="#0000ff"/>
<ellipse cx="995.17" cy="618.98" rx="2.75" ry="2.60" fill="#0000ff"/>
<ellipse cx="997.29" cy="621.20" rx="2.75" ry="2.60" fill="#0000ff"/>
<ellipse cx="999.41" cy="623.36" rx="2.75" ry="2.60" fill="#0000ff"/>
<ellipse cx="1001.52" cy="625.44" rx="2.75" ry="2.60" fill="#0000ff"/>
<ellipse cx="1003.64" cy="627.45" rx="2.75" ry="2.60" fill="#0000ff"/>
<ellipse cx="1005.76" cy="629.40" rx="2.75" ry="2.60" fill="#0000ff"/>
<ellipse cx="1007.88" cy="631.28" rx="2.75" ry="2.60" fill="#0000ff"/>
<ellipse cx="1010.00" cy="633.09" rx="2.75" ry="2.60" fill="#0000ff"/>
<ellipse cx="1012.12" cy="634.84" rx="2.75" ry="2.60" fill="#0000ff"/>
<ellipse cx="1014.24" cy="636.53" rx="2.75" ry="2.60" fill="#0000ff"/>
<ellipse cx="1016.35" cy="638.16" rx="2.75" ry="2.60" fill="#0000ff"/>
<ellipse cx="1018.47" cy="639.73" rx="2.75" ry="2.60" fill="#0000ff"/>
<ellipse cx="1020.59" cy="641.25" rx="2.75" ry="2.60" fill="#0000ff"/>
<ellipse cx="1022.71" cy="642.70" rx="2.75" ry="2.60" fill="#0000ff"/>
<ellipse cx="1024.83" cy="644.11" rx="2.75" ry="2.60" fill="#0000ff"/>
<ellipse cx="1026.95" cy="645.46" rx="2.75" ry="2.60" fill="#0000ff"/>
<ellipse cx="1029.06" cy="646.76" rx="2.75" ry="2.60" fill="#0000ff"/>
<ellipse cx="1031.18" cy="648.02" rx="2.75" ry="2.60" fill="#0000ff"/>
<ellipse cx="1033.30" cy="649.22" rx="2.75" ry="2.60" fill="#0000ff"/>
<ellipse cx="1035.42" cy="650.39" rx="2.75" ry="2.60" fill="#0000ff"/>
<ellipse cx="1037.54" cy="651.50" rx="2.75" ry="2.60" fill="#0000ff"/>
<ellipse cx="1039.66" cy="652.58" rx="2.75" ry="2.60" fill="#0000ff"/>
<ellipse cx="1041.78" cy="653.61" rx="2.75" ry="2.60" fill="#0000ff"/>
<ellipse cx="1043.89" cy="654.61" rx="2.75" ry="2.60" fill="#0000ff"/>
<ellipse cx="1046.01" cy="655.57" rx="2.75" ry="2.60" fill="#0000ff"/>
<ellipse cx="1048.13" cy="656.49" rx="2.75" ry="2.60" fill="#0000ff"/>
<ellipse cx="1050.25" cy="657.38" rx="2.75" ry="2.60" fill="#0000ff"/>
<ellipse cx="1052.37" cy="658.24" rx="2.75" ry="2.60" fill="#0000ff"/>
<ellipse cx="1054.49" cy="659.06" rx="2.75" ry="2.60" fill="#0000ff"/>
<ellipse cx="1056.61" cy="659.86" rx="2.75" ry="2.60" fill="#0000ff"/>
<ellipse cx="1058.72" cy="660.63" rx="2.75" ry="2.60" fill="#0000ff"/>
<ellipse cx="1060.84" cy="661.38" rx="2.75" ry="2.60" fill="#0000ff"/>
<ellipse cx="1062.96" cy="662.10" rx="2.75" ry="2.60" fill="#0000ff"/>
<ellipse cx="1065.08" cy="662.80" rx="2.75" ry="2.60" fill="#0000ff"/>
<ellipse cx="1067.20" cy="663.47" rx="2.75" ry="2.60" fill="#0000ff"/>
<ellipse cx="1069.32" cy="664.13" rx="2.75" ry="2.60" fill="#0000ff"/>
<ellipse cx="1071.43" cy="664.77" rx="2.75" ry="2.60" fill="#0000ff"/>
<ellipse cx="1073.55" cy="665.40" rx="2.75" ry="2.60" fill="#0000ff"/>
<ellipse cx="1075.67" cy="666.01" rx="2.75" ry="2.60" fill="#0000ff"/>
<ellipse cx="1077.79" cy="666.61" rx="2.75" ry="2.60" fill="#0000ff"/>
<ellipse cx="1079.91" cy="667.20" rx="2.75" ry="2.60" fill="#0000ff"/>
<ellipse cx="1082.03" cy="667.78" rx="2.75" ry="2.60" fill="#0000ff"/>
<ellipse cx="1084.15" cy="668.35" rx="2.75" ry="2.60" fill="#0000ff"/>
<ellipse cx="1086.26" cy="668.91" rx="2.75" ry="2.60" fill="#0000ff"/>
<ellipse cx="1088.38" cy="669.47" rx="2.75" ry="2.60" fill="#0000ff"/>
<ellipse cx="1090.50" cy="670.02" rx="2.75" ry="2.60" fill="#0000ff"/>
<ellipse cx="1092.62" cy="670.56" rx="2.75" ry="2.60" fill="#0000ff"/>
<ellipse cx="1094.74" cy="671.08" rx="2.75" ry="2.60" fill="#0000ff"/>
<ellipse cx="1096.86" cy="671.59" rx="2.75" ry="2.60" fill="#0000ff"/>
<ellipse cx="1098.97" cy="672.08" rx="2.75" ry="2.60" fill="#0000ff"/>
<ellipse cx="1101.09" cy="672.55" rx="2.75" ry="2.60" fill="#0000ff"/>
<ellipse cx="1103.21" cy="672.99" rx="2.75" ry="2.60" fill="#0000ff"/>
<ellipse cx="1105.33" cy="673.41" rx="2.75" ry="2.60" fill="#0000ff"/>
<ellipse cx="1107.45" cy="673.80" rx="2.75" ry="2.60" fill="#0000ff"/>
<ellipse cx="1109.57" cy="674.16" rx="2.75" ry="2.60" fill="#0000ff"/>
<ellipse cx="1111.69" cy="674.48" rx="2.75" ry="2.60" fill="#0000ff"/>
<ellipse cx="1113.80" cy="674.77" rx="2.75" ry="2.60" fill="#0000ff"/>
<ellipse cx="1115.92" cy="675.02" rx="2.75" ry="2.60" fill="#0000ff"/>
<ellipse cx="1118.04" cy="675.24" rx="2.75" ry="2.60" fill="#0000ff"/>
<ellipse cx="1120.16" cy="675.40" rx="2.75" ry="2.60" fill="#0000ff"/>
<ellipse cx="1122.28" cy="675.53" rx="2.75" ry="2.60" fill="#0000ff"/>
<ellipse cx="1122.80" cy="675.55" rx="2.75" ry="2.60" fill="#0000ff"/>
<ellipse cx="700.70" cy="769.77" rx="2.75" ry="2.60" fill="#ff0000"/>
<ellipse cx="702.82" cy="769.19" rx="2.75" ry="2.60" fill="#ff0000"/>
<ellipse cx="704.93" cy="768.61" rx="2.75" ry="2.60" fill="#ff0000"/>
<ellipse cx="707.05" cy="768.03" rx="2.75" ry="2.60" fill="#ff0000"/>
<ellipse cx="709.17" cy="767.45" rx="2.75" ry="2.60" fill="#ff0000"/>
<ellipse cx="711.29" cy="766.86" rx="2.75" ry="2.60" fill="#ff0000"/>
<ellipse cx="713.41" cy="766.28" rx="2.75" ry="2.60" fill="#ff0000"/>
<ellipse cx="715.53" cy="765.71" rx="2.75" ry="2.60" fill="#ff0000"/>
<ellipse cx="717.65" cy="765.14" rx="2.75" ry="2.60" fill="#ff0000"/>
<ellipse cx="719.76" cy="764.58" rx="2.75" ry="2.60" fill="#ff0000"/>
<ellipse cx="721.88" cy="764.00" rx="2.75" ry="2.60" fill="#ff0000"/>
<ellipse cx="724.00" cy="763.41" rx="2.75" ry="2.60" fill="#ff0000"/>
<ellipse cx="726.12" cy="762.78" rx="2.75" ry="2.60" fill="#ff0000"/>
<ellipse cx="728.24" cy="762.12" rx="2.75" ry="2.60" fill="#ff0000"/>
<ellipse cx="730.36" cy="761.42" rx="2.75" ry="2.60" fill="#ff0000"/>
<ellipse cx="732.47" cy="760.67" rx="2.75" ry="2.60" fill="#ff0000"/>
<ellipse cx="734.59" cy="759.89" rx="2.75" ry="2.60" fill="#ff0000"/>
<ellipse cx="736.71" cy="759.08" rx="2.75" ry="2.60" fill="#ff0000"/>
<ellipse cx="738.83" cy="758.24" rx="2.75" ry="2.60" fill="#ff0000"/>
<ellipse cx="740.95" cy="757.38" rx="2.75" ry="2.60" fill="#ff0000"/>
<ellipse cx="743.07" cy="756.50" rx="2.75" ry="2.60" fill="#ff0000"/>
<ellipse cx="745.19" cy="755.59" rx="2.75" ry="2.60" fill="#ff0000"/>
<ellipse cx="747.30" cy="754.68" rx="2.75" ry="2.60" fill="#ff0000"/>
<ellipse cx="749.42" cy="753.74" rx="2.75" ry="2.60" fill="#ff0000"/>
<ellipse cx="751.54" cy="752.76" rx="2.75" ry="2.60" fill="#ff0000"/>
<ellipse cx="753.66" cy="751.75" rx="2.75" ry="2.60" fill="#ff0000"/>
<ellipse cx="755.78" cy="750.68" rx="2.75" ry="2.60" fill="#ff0000"/>
<ellipse cx="757.90" cy="749.56" rx="2.75" ry="2.60" fill="#ff0000"/>
<ellipse cx="760.02" cy="748.36" rx="2.75" ry="2.60" fill="#ff0000"/>
<ellipse cx="762.13" cy="747.07" rx="2.75" ry="2.60" fill="#ff0000"/>
<ellipse cx="764.25" cy="745.68" rx="2.75" ry="2.60" fill="#ff0000"/>
<ellipse cx="766.37" cy="744.20" rx="2.75" ry="2.60" fill="#ff0000"/>
<ellipse cx="768.49" cy="742.63" rx="2.75" ry="2.60" fill="#ff0000"/>
<ellipse cx="770.61" cy="740.96" rx="2.75" ry="2.60" fill="#ff0000"/>
<ellipse cx="772.73" cy="739.16" rx="2.75" ry="2.60" fill="#ff0000"/>
<ellipse cx="774.84" cy="737.14" rx="2.75" ry="2.60" fill="#ff0000"/>
<ellipse cx="776.96" cy="735.14" rx="2.75" ry="2.60" fill="#ff0000"/>
<ellipse cx="779.08" cy="732.83" rx="2.75" ry="2.60" fill="#ff0000"/>
<ellipse cx="781.20" cy="726.60" rx="2.75" ry="2.60" fill="#ff0000"/>
<ellipse cx="699.10" cy="770.20" rx="2.75" ry="2.60" fill="#ff0000"/>
<ellipse cx="783.32" cy="744.82" rx="2.75" ry="2.60" fill="#ff0000"/>
<ellipse cx="785.44" cy="756.99" rx="2.75" ry="2.60" fill="#ff0000"/>
<ellipse cx="787.56" cy="766.42" rx="2.75" ry="2.60" fill="#ff0000"/>
<ellipse cx="789.67" cy="774.61" rx="2.75" ry="2.60" fill="#ff0000"/>
<ellipse cx="791.79" cy="781.68" rx="2.75" ry="2.60" fill="#ff0000"/>
<ellipse cx="793.91" cy="788.33" rx="2.75" ry="2.60" fill="#ff0000"/>
<ellipse cx="796.03" cy="794.18" rx="2.75" ry="2.60" fill="#ff0000"/>
<ellipse cx="798.15" cy="799.24" rx="2.75" ry="2.60" fill="#ff0000"/>
<ellipse cx="800.27" cy="804.29" rx="2.75" ry="2.60" fill="#ff0000"/>
<ellipse cx="802.38" cy="808.96" rx="2.75" ry="2.60" fill="#ff0000"/>
<ellipse cx="804.50" cy="813.21" rx="2.75" ry="2.60" fill="#ff0000"/>
<ellipse cx="806.62" cy="817.47" rx="2.75" ry="2.60" fill="#ff0000"/>
<ellipse cx="808.74" cy="820.72" rx="2.75" ry="2.60" fill="#ff0000"/>
<ellipse cx="810.86" cy="823.56" rx="2.75" ry="2.60" fill="#ff0000"/>
<ellipse cx="812.98" cy="826.44" rx="2.75" ry="2.60" fill="#ff0000"/>
<ellipse cx="815.10" cy="829.36" rx="2.75" ry="2.60" fill="#ff0000"/>
<ellipse cx="817.21" cy="832.20" rx="2.75" ry="2.60" fill="#ff0000"/>
<ellipse cx="819.33" cy="834.94" rx="2.75" ry="2.60" fill="#ff0000"/>
<ellipse cx="821.45" cy="837.58" rx="2.75" ry="2.60" fill="#ff0000"/>
<ellipse cx="823.57" cy="840.13" rx="2.75" ry="2.60" fill="#ff0000"/>
<ellipse cx="825.69" cy="842.57" rx="2.75" ry="2.60" fill="#ff0000"/>
<ellipse cx="827.81" cy="844.91" rx="2.75" ry="2.60" fill="#ff0000"/>
<ellipse cx="829.93" cy="847.14" rx="2.75" ry="2.60" fill="#ff0000"/>
<ellipse cx="832.04" cy="849.27" rx="2.75" ry="2.60" fill="#ff0000"/>
<ellipse cx="834.16" cy="851.28" rx="2.75" ry="2.60" fill="#ff0000"/>
<ellipse cx="836.28" cy="853.17" rx="2.75" ry="2.60" fill="#ff0000"/>
<ellipse cx="838.40" cy="854.95" rx="2.75" ry="2.60" fill="#ff0000"/>
<ellipse cx="840.52" cy="856.61" rx="2.75" ry="2.60" fill="#ff0000"/>
<ellipse cx="842.64" cy="858.16" rx="2.75" ry="2.60" fill="#ff0000"/>
<ellipse cx="844.75" cy="859.59" rx="2.75" ry="2.60" fill="#ff0000"/>
<ellipse cx="846.87" cy="860.91" rx="2.75" ry="2.60" fill="#ff0000"/>
<ellipse cx="848.99" cy="862.12" rx="2.75" ry="2.60" fill="#ff0000"/>
<ellipse cx="851.11" cy="863.23" rx="2.75" ry="2.60" fill="#ff0000"/>
<ellipse cx="853.23" cy="864.23" rx="2.75" ry="2.60" fill="#ff0000"/>
<ellipse cx="855.35" cy="865.12" rx="2.75" ry="2.60" fill="#ff0000"/>
<ellipse cx="857.47" cy="865.92" rx="2.75" ry="2.60" fill="#ff0000"/>
<ellipse cx="859.58" cy="866.61" rx="2.75" ry="2.60" fill="#ff0000"/>
<ellipse cx="861.70" cy="867.21" rx="2.75" ry="2.60" fill="#ff0000"/>
<ellipse cx="863.82" cy="867.71" rx="2.75" ry="2.60" fill="#ff0000"/>
<ellipse cx="865.94" cy="868.12" rx="2.75" ry="2.60" fill="#ff0000"/>
<ellipse cx="868.06" cy="868.44" rx="2.75" ry="2.60" fill="#ff0000"/>
<ellipse cx="870.18" cy="868.66" rx="2.75" ry="2.60" fill="#ff0000"/>
<ellipse cx="872.30" cy="868.80" rx="2.75" ry="2.60" fill="#ff0000"/>
<ellipse cx="874.41" cy="868.86" rx="2.75" ry="2.60" fill="#ff0000"/>
<ellipse cx="876.53" cy="868.82" rx="2.75" ry="2.60" fill="#ff0000"/>
<ellipse cx="878.65" cy="868.71" rx="2.75" ry="2.60" fill="#ff0000"/>
<ellipse cx="880.77" cy="868.52" rx="2.75" ry="2.60" fill="#ff0000"/>
<ellipse cx="882.89" cy="868.24" rx="2.75" ry="2.60" fill="#ff0000"/>
<ellipse cx="885.01" cy="867.90" rx="2.75" ry="2.60" fill="#ff0000"/>
<ellipse cx="887.12" cy="867.47" rx="2.75" ry="2.60" fill="#ff0000"/>
<ellipse cx="889.24" cy="866.98" rx="2.75" ry="2.60" fill="#ff0000"/>
<ellipse cx="891.36" cy="866.41" rx="2.75" ry="2.60" fill="#ff0000"/>
<ellipse cx="893.48" cy="865.78" rx="2.75" ry="2.60" fill="#ff0000"/>
<ellipse cx="895.60" cy="865.08" rx="2.75" ry="2.60" fill="#ff0000"/>
<ellipse cx="897.72" cy="864.31" rx="2.75" ry="2.60" fill="#ff0000"/>
<ellipse cx="899.84" cy="863.49" rx="2.75" ry="2.60" fill="#ff0000"/>
<ellipse cx="901.95" cy="862.60" rx="2.75" ry="2.60" fill="#ff0000"/>
<ellipse cx="904.07" cy="861.65" rx="2.75" ry="2.60" fill="#ff0000"/>
<ellipse cx="906.19" cy="860.65" rx="2.75" ry="2.60" fill="#ff0000"/>
<ellipse cx="908.31" cy="859.60" rx="2.75" ry="2.60" fill="#ff0000"/>
<ellipse cx="910.43" cy="858.49" rx="2.75" ry="2.60" fill="#ff0000"/>
<ellipse cx="912.55" cy="857.33" rx="2.75" ry="2.60" fill="#ff0000"/>
<ellipse cx="914.67" cy="856.13" rx="2.75" ry="2.60" fill="#ff0000"/>
<ellipse cx="916.78" cy="854.88" rx="2.75" ry="2.60" fill="#ff0000"/>
<ellipse cx="918.90" cy="853.59" rx="2.75" ry="2.60" fill="#ff0000"/>
<ellipse cx="921.02" cy="852.25" rx="2.75" ry="2.60" fill="#ff0000"/>
<ellipse cx="923.14" cy="850.88" rx="2.75" ry="2.60" fill="#ff0000"/>
<ellipse cx="925.26" cy="849.47" rx="2.75" ry="2.60" fill="#ff0000"/>
<ellipse cx="927.38" cy="848.02" rx="2.75" ry="2.60" fill="#ff0000"/>
<ellipse cx="929.50" cy="846.55" rx="2.75" ry="2.60" fill="#ff0000"/>
<ellipse cx="931.61" cy="845.04" rx="2.75" ry="2.60" fill="#ff0000"/>
<ellipse cx="933.73" cy="843.50" rx="2.75" ry="2.60" fill="#ff0000"/>
<ellipse cx="935.85" cy="841.93" rx="2.75" ry="2.60" fill="#ff0000"/>
<ellipse cx="937.97" cy="840.34" rx="2.75" ry="2.60" fill="#ff0000"/>
<ellipse cx="940.09" cy="838.73" rx="2.75" ry="2.60" fill="#ff0000"/>
<ellipse cx="942.21" cy="837.09" rx="2.75" ry="2.60" fill="#ff0000"/>
<ellipse cx="944.32" cy="835.44" rx="2.75" ry="2.60" fill="#ff0000"/>
<ellipse cx="946.44" cy="833.77" rx="2.75" ry="2.60" fill="#ff0000"/>
<ellipse cx="948.56" cy="832.09" rx="2.75" ry="2.60" fill="#ff0000"/>
<ellipse cx="950.68" cy="830.40" rx="2.75" ry="2.60" fill="#ff0000"/>
<ellipse cx="952.80" cy="828.69" rx="2.75" ry="2.60" fill="#ff0000"/>
<ellipse cx="954.92" cy="826.98" rx="2.75" ry="2.60" fill="#ff0000"/>
<ellipse cx="957.04" cy="825.26" rx="2.75" ry="2.60" fill="#ff0000"/>
<ellipse cx="959.15" cy="823.53" rx="2.75" ry="2.60" fill="#ff0000"/>
<ellipse cx="961.27" cy="821.79" rx="2.75" ry="2.60" fill="#ff0000"/>
<ellipse cx="963.39" cy="820.05" rx="2.75" ry="2.60" fill="#ff0000"/>
<ellipse cx="965.51" cy="818.31" rx="2.75" ry="2.60" fill="#ff0000"/>
<ellipse cx="967.63" cy="816.57" rx="2.75" ry="2.60" fill="#ff0000"/>
<ellipse cx="969.75" cy="814.82" rx="2.75" ry="2.60" fill="#ff0000"/>
<ellipse cx="971.87" cy="813.08" rx="2.75" ry="2.60" fill="#ff0000"/>
<ellipse cx="973.98" cy="811.34" rx="2.75" ry="2.60" fill="#ff0000"/>
<ellipse cx="976.10" cy="809.60" rx="2.75" ry="2.60" fill="#ff0000"/>
<ellipse cx="978.22" cy="807.86" rx="2.75" ry="2.60" fill="#ff0000"/>
<ellipse cx="980.34" cy="806.13" rx="2.75" ry="2.60" fill="#ff0000"/>
<ellipse cx="982.46" cy="804.40" rx="2.75" ry="2.60" fill="#ff0000"/>
<ellipse cx="984.58" cy="802.68" rx="2.75" ry="2.60" fill="#ff0000"/>
<ellipse cx="986.69" cy="800.97" rx="2.75" ry="2.60" fill="#ff0000"/>
<ellipse cx="988.81" cy="799.27" rx="2.75" ry="2.60" fill="#ff0000"/>
<ellipse cx="990.93" cy="797.57" rx="2.75" ry="2.60" fill="#ff0000"/>
<ellipse cx="993.05" cy="795.89" rx="2.75" ry="2.60" fill="#ff0000"/>
<ellipse cx="995.17" cy="794.22" rx="2.75" ry="2.60" fill="#ff0000"/>
<ellipse cx="997.29" cy="792.57" rx="2.75" ry="2.60" fill="#ff0000"/>
<ellipse cx="999.41" cy="790.93" rx="2.75" ry="2.60" fill="#ff0000"/>
<ellipse cx="1001.52" cy="789.31" rx="2.75" ry="2.60" fill="#ff0000"/>
<ellipse cx="1003.64" cy="787.70" rx="2.75" ry="2.60" fill="#ff0000"/>
<ellipse cx="1005.76" cy="786.11" rx="2.75" ry="2.60" fill="#ff0000"/>
<ellipse cx="1007.88" cy="784.54" rx="2.75" ry="2.60" fill="#ff0000"/>
<ellipse cx="1010.00" cy="782.99" rx="2.75" ry="2.60" fill="#ff0000"/>
<ellipse cx="1012.12" cy="781.46" rx="2.75" ry="2.60" fill="#ff0000"/>
<ellipse cx="1014.24" cy="779.95" rx="2.75" ry="2.60" fill="#ff0000"/>
<ellipse cx="1016.35" cy="778.45" rx="2.75" ry="2.60" fill="#ff0000"/>
<ellipse cx="1018.47" cy="776.97" rx="2.75" ry="2.60" fill="#ff0000"/>
<ellipse cx="1020.59" cy="775.51" rx="2.75" ry="2.60" fill="#ff0000"/>
<ellipse cx="1022.71" cy="774.06" rx="2.75" ry="2.60" fill="#ff0000"/>
<ellipse cx="1024.83" cy="772.62" rx="2.75" ry="2.60" fill="#ff0000"/>
<ellipse cx="1026.95" cy="771.20" rx="2.75" ry="2.60" fill="#ff0000"/>
<ellipse cx="1029.06" cy="769.79" rx="2.75" ry="2.60" fill="#ff0000"/>
<ellipse cx="1031.18" cy="768.39" rx="2.75" ry="2.60" fill="#ff0000"/>
<ellipse cx="1033.30" cy="767.00" rx="2.75" ry="2.60" fill="#ff0000"/>
<ellipse cx="1035.42" cy="765.61" rx="2.75" ry="2.60" fill="#ff0000"/>
<ellipse cx="1037.54" cy="764.24" rx="2.75" ry="2.60" fill="#ff0000"/>
<ellipse cx="1039.66" cy="762.88" rx="2.75" ry="2.60" fill="#ff0000"/>
<ellipse cx="1041.78" cy="761.52" rx="2.75" ry="2.60" fill="#ff0000"/>
<ellipse cx="1043.89" cy="760.17" rx="2.75" ry="2.60" fill="#ff0000"/>
<ellipse cx="1046.01" cy="758.82" rx="2.75" ry="2.60" fill="#ff0000"/>
<ellipse cx="1048.13" cy="757.48" rx="2.75" ry="2.60" fill="#ff0000"/>
<ellipse cx="1050.25" cy="756.14" rx="2.75" ry="2.60" fill="#ff0000"/>
<ellipse cx="1052.37" cy="754.81" rx="2.75" ry="2.60" fill="#ff0000"/>
<ellipse cx="1054.49" cy="753.47" rx="2.75" ry="2.60" fill="#ff0000"/>
<ellipse cx="1056.61" cy="752.14" rx="2.75" ry="2.60" fill="#ff0000"/>
<ellipse cx="1058.72" cy="750.81" rx="2.75" ry="2.60" fill="#ff0000"/>
<ellipse cx="1060.84" cy="749.48" rx="2.75" ry="2.60" fill="#ff0000"/>
<ellipse cx="1062.96" cy="748.14" rx="2.75" ry="2.60" fill="#ff0000"/>
<ellipse cx="1065.08" cy="746.81" rx="2.75" ry="2.60" fill="#ff0000"/>
<ellipse cx="1067.20" cy="745.47" rx="2.75" ry="2.60" fill="#ff0000"/>
<ellipse cx="1069.32" cy="744.13" rx="2.75" ry="2.60" fill="#ff0000"/>
<ellipse cx="1071.43" cy="742.80" rx="2.75" ry="2.60" fill="#ff0000"/>
<ellipse cx="1073.55" cy="741.47" rx="2.75" ry="2.60" fill="#ff0000"/>
<ellipse cx="1075.67" cy="740.14" rx="2.75" ry="2.60" fill="#ff0000"/>
<ellipse cx="1077.79" cy="738.82" rx="2.75" ry="2.60" fill="#ff0000"/>
<ellipse cx="1079.91" cy="737.51" rx="2.75" ry="2.60" fill="#ff0000"/>
<ellipse cx="1082.03" cy="736.20" rx="2.75" ry="2.60" fill="#ff0000"/>
<ellipse cx="1084.15" cy="734.91" rx="2.75" ry="2.60" fill="#ff0000"/>
<ellipse cx="1086.26" cy="733.62" rx="2.75" ry="2.60" fill="#ff0000"/>
<ellipse cx="1088.38" cy="732.35" rx="2.75" ry="2.60" fill="#ff0000"/>
<ellipse cx="1090.50" cy="731.09" rx="2.75" ry="2.60" fill="#ff0000"/>
<ellipse cx="1092.62" cy="729.84" rx="2.75" ry="2.60" fill="#ff0000"/>
<ellipse cx="1094.74" cy="728.61" rx="2.75" ry="2.60" fill="#ff0000"/>
<ellipse cx="1096.86" cy="727.39" rx="2.75" ry="2.60" fill="#ff0000"/>
<ellipse cx="1098.97" cy="726.19" rx="2.75" ry="2.60" fill="#ff0000"/>
<ellipse cx="1101.09" cy="725.01" rx="2.75" ry="2.60" fill="#ff0000"/>
<ellipse cx="1103.21" cy="723.86" rx="2.75" ry="2.60" fill="#ff0000"/>
<ellipse cx="1105.33" cy="722.72" rx="2.75" ry="2.60" fill="#ff0000"/>
<ellipse cx="1107.45" cy="721.60" rx="2.75" ry="2.60" fill="#ff0000"/>
<ellipse cx="1109.57" cy="720.51" rx="2.75" ry="2.60" fill="#ff0000"/>
<ellipse cx="1111.69" cy="719.45" rx="2.75" ry="2.60" fill="#ff0000"/>
<ellipse cx="1113.80" cy="718.41" rx="2.75" ry="2.60" fill="#ff0000"/>
<ellipse cx="1115.92" cy="717.40" rx="2.75" ry="2.60" fill="#ff0000"/>
<ellipse cx="1118.04" cy="716.42" rx="2.75" ry="2.60" fill="#ff0000"/>
<ellipse cx="1120.16" cy="715.46" rx="2.75" ry="2.60" fill="#ff0000"/>
<ellipse cx="1122.28" cy="714.54" rx="2.75" ry="2.60" fill="#ff0000"/>
<ellipse cx="1122.80" cy="714.32" rx="2.75" ry="2.60" fill="#ff0000"/>
<g font-family="Liberation Sans, Arial, sans-serif" fill="#000" stroke="#000" stroke-width="0.50">
<text transform="translate(105.50 73.70) scale(1.130 1)" text-anchor="end" font-size="28.8">1.45</text>
<text transform="translate(105.50 156.43) scale(1.130 1)" text-anchor="end" font-size="28.8">1.5</text>
<text transform="translate(105.50 233.83) scale(1.130 1)" text-anchor="end" font-size="28.8">1.55</text>
<text transform="translate(105.50 306.39) scale(1.130 1)" text-anchor="end" font-size="28.8">1.6</text>
<text transform="translate(105.50 374.55) scale(1.130 1)" text-anchor="end" font-size="28.8">1.65</text>
<text transform="translate(105.50 438.70) scale(1.130 1)" text-anchor="end" font-size="28.8">1.7</text>
<text transform="translate(108.50 456.70) scale(1.130 1)" text-anchor="middle" font-size="28.8">0.1</text>
<text transform="translate(319.40 456.70) scale(1.130 1)" text-anchor="middle" font-size="28.8">0.2</text>
<text transform="translate(530.30 456.70) scale(1.130 1)" text-anchor="middle" font-size="28.8">0.3</text>
<text transform="translate(695.50 68.80) scale(1.130 1)" text-anchor="end" font-size="28.8">1.45</text>
<text transform="translate(695.50 152.21) scale(1.130 1)" text-anchor="end" font-size="28.8">1.5</text>
<text transform="translate(695.50 230.25) scale(1.130 1)" text-anchor="end" font-size="28.8">1.55</text>
<text transform="translate(695.50 303.40) scale(1.130 1)" text-anchor="end" font-size="28.8">1.6</text>
<text transform="translate(695.50 372.12) scale(1.130 1)" text-anchor="end" font-size="28.8">1.65</text>
<text transform="translate(695.50 436.80) scale(1.130 1)" text-anchor="end" font-size="28.8">1.7</text>
<text transform="translate(698.50 454.80) scale(1.130 1)" text-anchor="middle" font-size="28.8">0.1</text>
<text transform="translate(910.25 454.80) scale(1.130 1)" text-anchor="middle" font-size="28.8">0.2</text>
<text transform="translate(1122.00 454.80) scale(1.130 1)" text-anchor="middle" font-size="28.8">0.3</text>
<text transform="translate(104.00 881.20) scale(1.130 1)" text-anchor="end" font-size="28.8">0</text>
<text transform="translate(104.00 758.23) scale(1.130 1)" text-anchor="end" font-size="28.8">0.05</text>
<text transform="translate(104.00 635.27) scale(1.130 1)" text-anchor="end" font-size="28.8">0.1</text>
<text transform="translate(104.00 512.30) scale(1.130 1)" text-anchor="end" font-size="28.8">0.15</text>
<text transform="translate(107.00 899.20) scale(1.130 1)" text-anchor="middle" font-size="28.8">0.1</text>
<text transform="translate(318.65 899.20) scale(1.130 1)" text-anchor="middle" font-size="28.8">0.2</text>
<text transform="translate(530.30 899.20) scale(1.130 1)" text-anchor="middle" font-size="28.8">0.3</text>
<text transform="translate(696.10 880.20) scale(1.130 1)" text-anchor="end" font-size="28.8">0</text>
<text transform="translate(696.10 771.72) scale(1.130 1)" text-anchor="end" font-size="28.8">0.05</text>
<text transform="translate(696.10 663.24) scale(1.130 1)" text-anchor="end" font-size="28.8">0.1</text>
<text transform="translate(696.10 554.76) scale(1.130 1)" text-anchor="end" font-size="28.8">0.15</text>
<text transform="translate(699.10 898.20) scale(1.130 1)" text-anchor="middle" font-size="28.8">0.1</text>
<text transform="translate(910.95 898.20) scale(1.130 1)" text-anchor="middle" font-size="28.8">0.2</text>
<text transform="translate(1122.80 898.20) scale(1.130 1)" text-anchor="middle" font-size="28.8">0.3</text>
</g>
<g font-family="Liberation Serif, Times New Roman, serif" fill="#000" stroke="#000" stroke-width="0.30">
<text x="157.00" y="25.80" font-size="37.0">(a)</text>
<text x="206.90" y="25.80" font-size="37.0" font-style="italic">h</text>
<text x="226.40" y="34.50" font-size="25.0">metal</text>
<text transform="translate(286.60 24.67) scale(1.12 0.873)" font-size="37.0">=</text>
<text x="316.30" y="25.80" font-size="37.0">269.5</text>
<text x="408.50" y="25.80" font-size="37.0">nm</text>
<text x="752.60" y="25.80" font-size="37.0">(b)</text>
<text x="804.40" y="25.80" font-size="37.0" font-style="italic">h</text>
<text x="823.90" y="34.50" font-size="25.0">metal</text>
<text transform="translate(884.10 24.67) scale(1.12 0.873)" font-size="37.0">=</text>
<text x="913.80" y="25.80" font-size="37.0">286.5</text>
<text x="1006.00" y="25.80" font-size="37.0">nm</text>
<text transform="translate(34 312.8) rotate(-90) scale(1.26 1) skewX(-16)" font-size="37.0" font-style="italic">&#955;</text>
<text transform="translate(43.4 288.6) rotate(-90)" font-size="26.0">reso</text>
<text transform="translate(34 238.00) rotate(-90)" font-size="37.0">[&#956;m]</text>
<text transform="translate(27.5 822.3) rotate(-90)" font-size="37.0">Im[</text>
<text transform="translate(27.5 768.30) rotate(-90)" font-size="37.0" font-style="italic">&#969;</text>
<text transform="translate(37.5 745.50) rotate(-90)" font-size="24.5">reso</text>
<text transform="translate(27.5 694.00) rotate(-90)" font-size="37.0">/</text>
<text transform="translate(27.5 675.50) rotate(-90)" font-size="37.0" font-style="italic">c</text>
<text transform="translate(27.5 660.00) rotate(-90)" font-size="37.0">] [&#956;m</text>
<text transform="translate(17.00 574.50) rotate(-90)" font-size="25.0">-1</text>
<text transform="translate(27.5 555.00) rotate(-90)" font-size="37.0">]</text>
<text x="252.00" y="947.50" font-size="37.0" font-style="italic">k</text>
<text x="268.50" y="957.00" font-size="26.0" font-style="italic">x</text>
<text x="286.00" y="947.50" font-size="37.0">[&#960;/</text>
<text transform="translate(330.00 947.5) scale(1.1 1)" font-size="37.0" font-style="italic">&#923;</text>
<text x="353.70" y="947.50" font-size="37.0">]</text>
<text x="841.00" y="947.50" font-size="37.0" font-style="italic">k</text>
<text x="857.50" y="957.00" font-size="26.0" font-style="italic">x</text>
<text x="875.00" y="947.50" font-size="37.0">[&#960;/</text>
<text transform="translate(919.00 947.5) scale(1.1 1)" font-size="37.0" font-style="italic">&#923;</text>
<text x="942.70" y="947.50" font-size="37.0">]</text>
</g>
</svg>
</body></html>
